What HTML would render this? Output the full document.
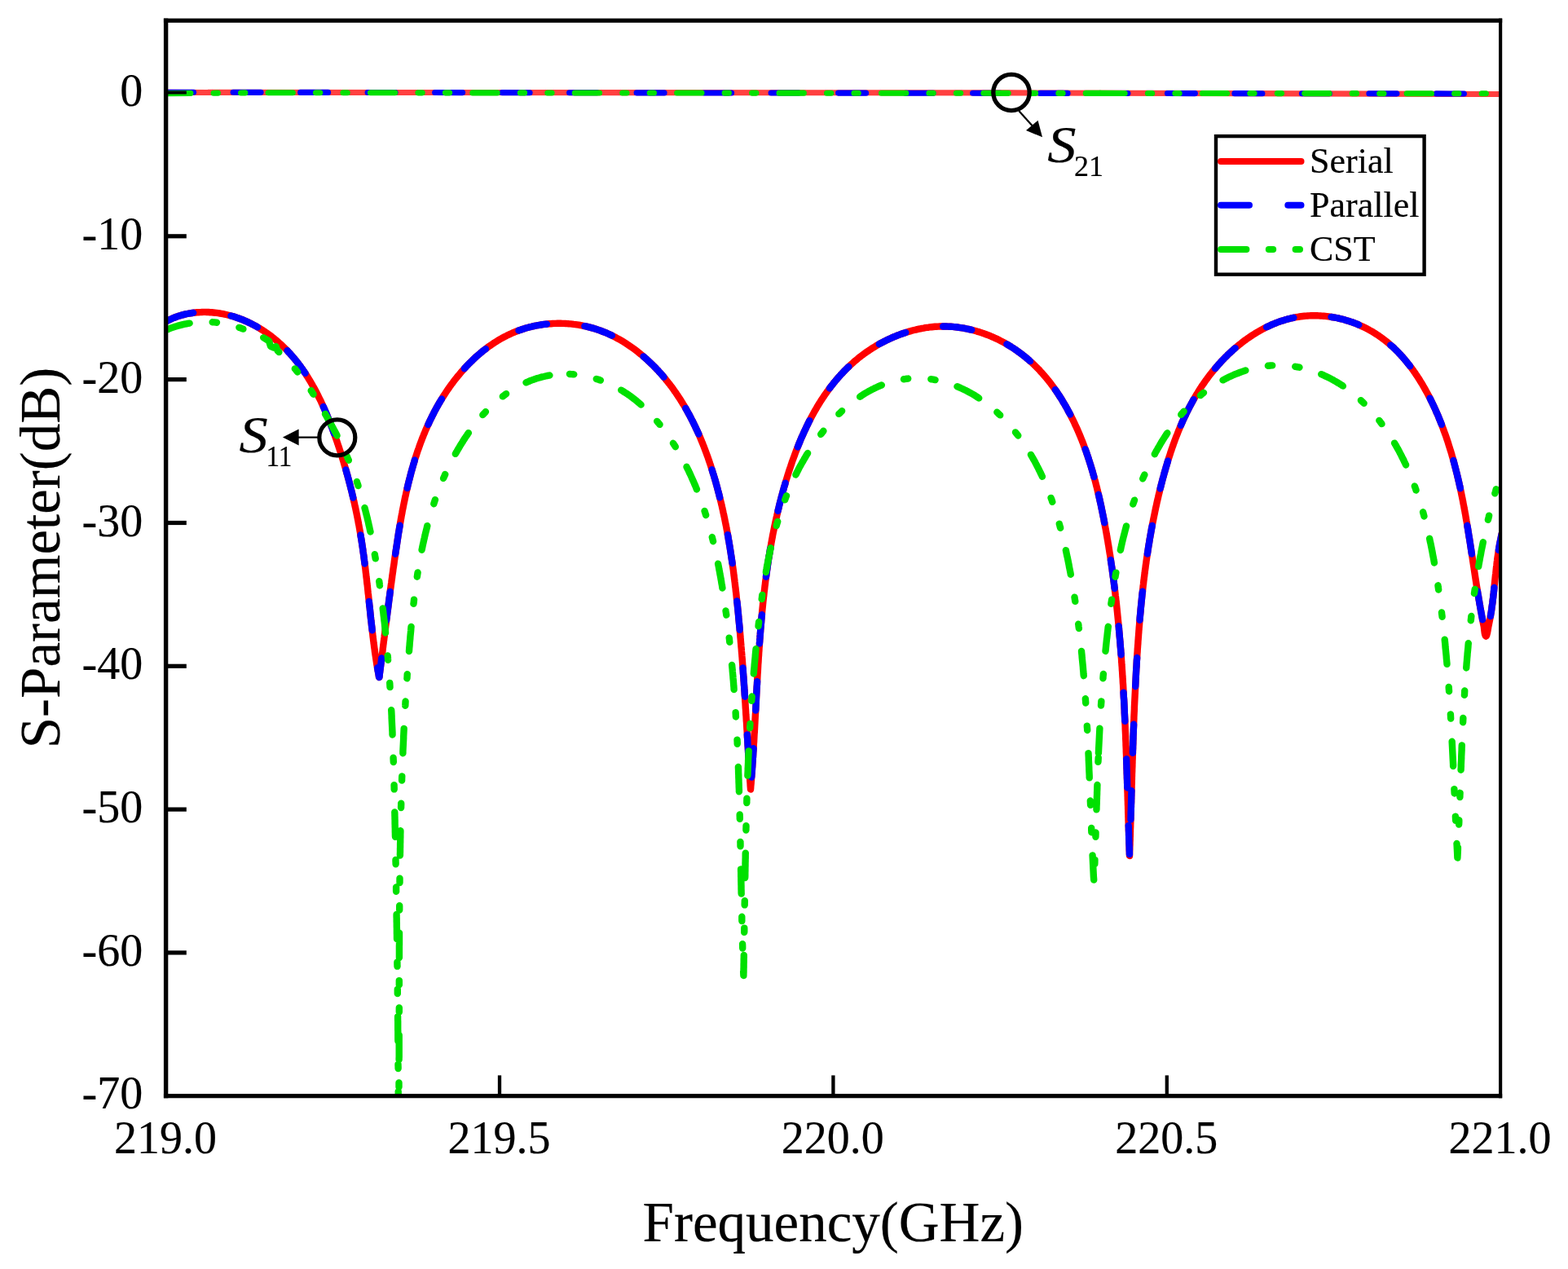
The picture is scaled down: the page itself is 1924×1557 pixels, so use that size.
<!DOCTYPE html>
<html lang="en">
<head>
<meta charset="utf-8">
<title>S-Parameter vs Frequency</title>
<style>
html,body{margin:0;padding:0;background:#fff;}
body{width:1924px;height:1557px;overflow:hidden;}
svg{display:block;}
text{font-family:'Liberation Serif', 'Times New Roman', Times, serif;fill:#000;stroke:#000;stroke-width:0.2px;stroke-linejoin:round;}
.tick{font-size:56px;}
.title{font-size:69px;}
.leg{font-size:44px;}
.ann{font-size:64px;font-style:italic;}
.sub{font-size:36px;}
.curve{fill:none;stroke-width:8.4;stroke-linecap:round;stroke-linejoin:round;}
.s21{fill:none;stroke-width:7.1;stroke-linecap:round;stroke-linejoin:round;}
.r{stroke:#ff0000;} .r2{stroke:#ff4040;}
.b{stroke:#0000ff;stroke-dasharray:34 48.5;}
.curve.b{stroke-dasharray:35.5 46.7;}
.g{stroke:#00e000;stroke-dasharray:30.3 28.17 5.3 28.17 5.3 28.17;}
</style>
</head>
<body>
<svg width="1924" height="1557" viewBox="0 0 1924 1557">
<rect x="0" y="0" width="1924" height="1557" fill="#fff"/>
<defs><clipPath id="plot"><rect x="203.6" y="25.3" width="1635.4" height="1318.2"/></clipPath></defs>

<g clip-path="url(#plot)">
<path class="s21 r2" d="M203.6,113.4 L1241,113.9 L1841.2,115.5"/>
<path class="s21 b" d="M203.6,113.20 L1349.9,114.46"/>
<path class="s21 b" d="M1349.9,114.46 L1841.2,115.00"/>
<path class="s21 g" d="M203.6,114.60 L330,113.7 L1349.9,114.41"/>
<path class="s21 g" d="M1349.9,114.41 L1841.2,114.80"/>
<path class="curve r" d="M203.6,394.6 L205.4,393.6 L207.2,392.7 L209.0,391.8 L210.8,391.0 L212.7,390.2 L214.5,389.5 L216.4,388.8 L218.3,388.1 L220.2,387.5 L222.1,386.9 L224.1,386.4 L226.0,385.9 L227.9,385.4 L229.9,385.0 L231.9,384.6 L233.8,384.3 L235.8,384.0 L237.8,383.7 L239.8,383.5 L241.8,383.3 L243.8,383.2 L245.8,383.1 L247.8,383.0 L249.8,382.9 L251.8,382.9 L253.8,383.0 L255.8,383.0 L257.8,383.2 L259.8,383.3 L261.8,383.5 L263.8,383.7 L265.7,383.9 L267.7,384.2 L269.7,384.5 L271.7,384.8 L273.6,385.2 L275.6,385.6 L277.5,386.0 L279.5,386.5 L281.4,387.0 L283.3,387.5 L285.3,388.0 L287.2,388.6 L289.1,389.2 L291.0,389.9 L292.8,390.5 L294.7,391.2 L296.6,391.9 L298.4,392.7 L300.2,393.5 L302.1,394.2 L303.9,395.1 L305.7,395.9 L307.5,396.8 L309.3,397.7 L311.0,398.6 L312.8,399.6 L314.6,400.5 L316.3,401.5 L318.0,402.5 L319.7,403.6 L321.4,404.6 L323.1,405.7 L324.8,406.8 L326.4,408.0 L328.1,409.1 L329.7,410.3 L331.3,411.4 L332.9,412.6 L334.5,413.9 L336.0,415.1 L337.6,416.4 L339.1,417.6 L340.6,418.9 L342.1,420.3 L343.6,421.6 L345.1,422.9 L346.5,424.3 L348.0,425.7 L349.4,427.1 L350.8,428.5 L352.2,429.9 L353.5,431.3 L354.9,432.8 L356.2,434.2 L357.5,435.7 L358.8,437.2 L360.1,438.7 L361.4,440.2 L362.6,441.8 L363.9,443.3 L365.1,444.9 L366.3,446.4 L367.5,448.0 L368.7,449.6 L369.8,451.2 L371.0,452.8 L372.1,454.5 L373.2,456.1 L374.4,457.7 L375.4,459.4 L376.5,461.1 L377.6,462.8 L378.6,464.4 L379.7,466.2 L380.7,467.9 L381.7,469.6 L382.7,471.3 L383.7,473.1 L384.7,474.8 L385.7,476.6 L386.6,478.3 L387.6,480.1 L388.5,481.9 L389.4,483.7 L390.3,485.5 L391.2,487.3 L392.1,489.1 L393.0,490.9 L393.9,492.7 L394.7,494.6 L395.6,496.4 L396.4,498.2 L397.3,500.1 L398.1,501.9 L398.9,503.8 L399.7,505.7 L400.5,507.5 L401.3,509.4 L402.0,511.3 L402.8,513.2 L403.6,515.1 L404.3,516.9 L405.1,518.8 L405.8,520.7 L406.5,522.6 L407.3,524.5 L408.0,526.4 L408.7,528.4 L409.4,530.3 L410.1,532.2 L410.8,534.1 L411.4,536.0 L412.1,537.9 L412.8,539.9 L413.5,541.8 L414.1,543.7 L414.8,545.6 L415.4,547.6 L416.1,549.5 L416.7,551.4 L417.3,553.3 L417.9,555.3 L418.6,557.2 L419.2,559.1 L419.8,561.1 L420.4,563.0 L421.0,564.9 L421.6,566.9 L422.1,568.8 L422.7,570.7 L423.3,572.7 L423.9,574.6 L424.4,576.6 L425.0,578.5 L425.5,580.5 L426.1,582.4 L426.6,584.3 L427.1,586.3 L427.7,588.2 L428.2,590.2 L428.7,592.1 L429.2,594.1 L429.7,596.0 L430.2,598.0 L430.7,599.9 L431.2,601.9 L431.7,603.8 L432.1,605.8 L432.6,607.8 L433.1,609.7 L433.5,611.7 L434.0,613.6 L434.4,615.6 L434.9,617.5 L435.3,619.5 L435.7,621.5 L436.2,623.4 L436.6,625.4 L437.0,627.3 L437.4,629.3 L437.8,631.3 L438.2,633.2 L438.6,635.2 L439.0,637.2 L439.4,639.1 L439.7,641.1 L440.1,643.1 L440.5,645.0 L440.8,647.0 L441.2,648.9 L441.5,650.9 L441.9,652.9 L442.2,654.8 L442.5,656.8 L442.8,658.8 L443.2,660.8 L443.5,662.7 L443.8,664.7 L444.1,666.7 L444.4,668.6 L444.7,670.6 L445.0,672.6 L445.3,674.5 L445.5,676.5 L445.8,678.5 L446.1,680.4 L446.4,682.4 L446.6,684.4 L446.9,686.4 L447.1,688.3 L447.4,690.3 L447.6,692.3 L447.9,694.2 L448.1,696.2 L448.4,698.2 L448.6,700.2 L448.8,702.1 L449.1,704.1 L449.3,706.1 L449.5,708.1 L449.8,710.0 L450.0,712.0 L450.2,714.0 L450.4,716.0 L450.7,717.9 L450.9,719.9 L451.1,721.9 L451.3,723.9 L451.5,725.9 L451.7,727.8 L452.0,729.8 L452.2,731.8 L452.4,733.8 L452.6,735.7 L452.8,737.7 L453.0,739.7 L453.2,741.7 L453.4,743.7 L453.7,745.6 L453.9,747.6 L454.1,749.6 L454.3,751.6 L454.5,753.6 L454.7,755.5 L454.9,757.5 L455.1,759.5 L455.4,761.5 L455.6,763.5 L455.8,765.4 L456.0,767.4 L456.3,769.4 L456.5,771.4 L456.7,773.4 L456.9,775.4 L457.2,777.3 L457.4,779.3 L457.6,781.3 L457.9,783.3 L458.1,785.3 L458.4,787.3 L458.6,789.3 L458.9,791.2 L459.1,793.2 L459.4,795.2 L459.7,797.2 L459.9,799.2 L460.2,801.2 L460.5,803.2 L460.8,805.1 L461.1,807.1 L461.4,809.1 L461.7,811.1 L462.0,813.1 L462.3,815.1 L462.7,817.1 L463.0,819.1 L463.4,821.1 L463.7,823.0 L464.1,825.0 L464.5,827.0 L464.7,828.5 L464.9,829.6 L465.0,830.4 L465.2,830.8 L465.3,831.0 L465.4,830.8 L465.5,830.4 L465.6,829.6 L465.7,828.5 L465.8,827.0 L466.1,825.0 L466.3,823.1 L466.6,821.1 L466.8,819.1 L467.1,817.1 L467.3,815.1 L467.6,813.1 L467.8,811.2 L468.1,809.2 L468.3,807.2 L468.6,805.2 L468.9,803.2 L469.1,801.3 L469.4,799.3 L469.6,797.3 L469.8,795.3 L470.1,793.4 L470.3,791.4 L470.6,789.4 L470.8,787.4 L471.1,785.5 L471.3,783.5 L471.6,781.5 L471.8,779.5 L472.1,777.6 L472.3,775.6 L472.6,773.6 L472.8,771.7 L473.1,769.7 L473.3,767.7 L473.6,765.8 L473.8,763.8 L474.1,761.8 L474.3,759.8 L474.6,757.9 L474.8,755.9 L475.1,753.9 L475.3,752.0 L475.6,750.0 L475.9,748.0 L476.1,746.1 L476.4,744.1 L476.6,742.1 L476.9,740.2 L477.1,738.2 L477.4,736.2 L477.6,734.2 L477.9,732.3 L478.2,730.3 L478.4,728.3 L478.7,726.4 L478.9,724.4 L479.2,722.4 L479.5,720.4 L479.7,718.5 L480.0,716.5 L480.3,714.5 L480.5,712.6 L480.8,710.6 L481.1,708.6 L481.3,706.6 L481.6,704.7 L481.9,702.7 L482.2,700.7 L482.4,698.7 L482.7,696.7 L483.0,694.8 L483.3,692.8 L483.6,690.8 L483.8,688.8 L484.1,686.8 L484.4,684.9 L484.7,682.9 L485.0,680.9 L485.3,678.9 L485.6,676.9 L485.9,674.9 L486.2,672.9 L486.5,671.0 L486.8,669.0 L487.1,667.0 L487.4,665.0 L487.7,663.0 L488.0,661.0 L488.3,659.0 L488.6,657.0 L488.9,655.0 L489.2,653.1 L489.6,651.1 L489.9,649.1 L490.2,647.1 L490.6,645.1 L490.9,643.1 L491.2,641.1 L491.6,639.1 L491.9,637.1 L492.3,635.2 L492.6,633.2 L493.0,631.2 L493.4,629.2 L493.7,627.2 L494.1,625.2 L494.5,623.3 L494.9,621.3 L495.3,619.3 L495.7,617.3 L496.1,615.4 L496.5,613.4 L496.9,611.4 L497.3,609.4 L497.8,607.5 L498.2,605.5 L498.6,603.5 L499.1,601.6 L499.5,599.6 L500.0,597.7 L500.4,595.7 L500.9,593.8 L501.4,591.8 L501.9,589.8 L502.4,587.9 L502.9,586.0 L503.4,584.0 L503.9,582.1 L504.4,580.1 L504.9,578.2 L505.5,576.3 L506.0,574.3 L506.6,572.4 L507.1,570.5 L507.7,568.6 L508.3,566.7 L508.8,564.7 L509.4,562.8 L510.0,560.9 L510.7,559.0 L511.3,557.1 L511.9,555.2 L512.5,553.3 L513.2,551.5 L513.9,549.6 L514.5,547.7 L515.2,545.8 L515.9,543.9 L516.6,542.1 L517.3,540.2 L518.0,538.3 L518.7,536.5 L519.5,534.6 L520.2,532.8 L521.0,531.0 L521.7,529.1 L522.5,527.3 L523.3,525.5 L524.1,523.6 L524.9,521.8 L525.8,520.0 L526.6,518.2 L527.5,516.4 L528.3,514.6 L529.2,512.8 L530.1,511.0 L531.0,509.2 L531.9,507.5 L532.8,505.7 L533.7,503.9 L534.7,502.2 L535.6,500.4 L536.6,498.7 L537.6,496.9 L538.6,495.2 L539.6,493.5 L540.6,491.7 L541.7,490.0 L542.7,488.3 L543.8,486.6 L544.9,484.9 L546.0,483.2 L547.1,481.5 L548.2,479.8 L549.3,478.2 L550.5,476.5 L551.6,474.9 L552.8,473.2 L554.0,471.6 L555.2,470.0 L556.4,468.3 L557.6,466.7 L558.9,465.1 L560.1,463.6 L561.4,462.0 L562.7,460.4 L564.0,458.9 L565.3,457.3 L566.6,455.8 L567.9,454.3 L569.3,452.8 L570.6,451.3 L572.0,449.8 L573.4,448.4 L574.8,446.9 L576.2,445.5 L577.6,444.1 L579.1,442.7 L580.5,441.3 L582.0,439.9 L583.4,438.5 L584.9,437.2 L586.4,435.9 L587.9,434.6 L589.4,433.3 L591.0,432.0 L592.5,430.7 L594.1,429.5 L595.7,428.3 L597.2,427.1 L598.8,425.9 L600.4,424.7 L602.1,423.6 L603.7,422.5 L605.3,421.4 L607.0,420.3 L608.7,419.2 L610.3,418.2 L612.0,417.2 L613.7,416.2 L615.5,415.2 L617.2,414.2 L618.9,413.3 L620.7,412.4 L622.4,411.5 L624.2,410.7 L626.0,409.8 L627.8,409.0 L629.6,408.2 L631.4,407.5 L633.2,406.7 L635.1,406.0 L636.9,405.3 L638.8,404.7 L640.7,404.0 L642.6,403.4 L644.5,402.8 L646.4,402.3 L648.3,401.8 L650.2,401.2 L652.2,400.8 L654.1,400.3 L656.0,399.9 L658.0,399.5 L660.0,399.1 L661.9,398.8 L663.9,398.5 L665.9,398.2 L667.9,397.9 L669.9,397.7 L671.9,397.5 L673.9,397.3 L675.9,397.2 L677.9,397.0 L679.9,396.9 L681.9,396.9 L683.9,396.8 L686.0,396.8 L688.0,396.8 L690.0,396.9 L692.0,396.9 L694.0,397.0 L696.0,397.1 L698.0,397.3 L700.0,397.4 L702.0,397.6 L704.0,397.9 L706.0,398.1 L708.0,398.4 L710.0,398.7 L712.0,399.0 L713.9,399.4 L715.9,399.8 L717.9,400.2 L719.8,400.6 L721.8,401.1 L723.7,401.6 L725.6,402.1 L727.5,402.6 L729.4,403.2 L731.3,403.8 L733.2,404.4 L735.1,405.1 L737.0,405.8 L738.8,406.5 L740.7,407.2 L742.5,407.9 L744.4,408.7 L746.2,409.5 L748.0,410.3 L749.8,411.2 L751.6,412.0 L753.4,412.9 L755.1,413.8 L756.9,414.8 L758.6,415.7 L760.4,416.7 L762.1,417.7 L763.8,418.7 L765.5,419.7 L767.2,420.8 L768.9,421.9 L770.5,423.0 L772.2,424.1 L773.8,425.2 L775.5,426.4 L777.1,427.5 L778.7,428.7 L780.3,429.9 L781.9,431.1 L783.5,432.4 L785.0,433.6 L786.6,434.9 L788.1,436.2 L789.6,437.5 L791.2,438.8 L792.7,440.1 L794.2,441.5 L795.6,442.8 L797.1,444.2 L798.5,445.6 L800.0,447.0 L801.4,448.4 L802.8,449.8 L804.2,451.2 L805.6,452.7 L807.0,454.1 L808.3,455.6 L809.7,457.1 L811.0,458.6 L812.3,460.1 L813.6,461.6 L814.9,463.1 L816.2,464.6 L817.4,466.2 L818.7,467.7 L819.9,469.3 L821.2,470.9 L822.4,472.4 L823.6,474.0 L824.8,475.6 L825.9,477.2 L827.1,478.9 L828.2,480.5 L829.4,482.1 L830.5,483.8 L831.6,485.4 L832.7,487.1 L833.8,488.7 L834.9,490.4 L835.9,492.1 L837.0,493.8 L838.0,495.5 L839.1,497.2 L840.1,498.9 L841.1,500.6 L842.1,502.4 L843.1,504.1 L844.0,505.9 L845.0,507.6 L846.0,509.4 L846.9,511.1 L847.8,512.9 L848.7,514.7 L849.7,516.5 L850.6,518.3 L851.4,520.1 L852.3,521.9 L853.2,523.7 L854.0,525.5 L854.9,527.3 L855.7,529.1 L856.6,531.0 L857.4,532.8 L858.2,534.7 L859.0,536.5 L859.8,538.4 L860.5,540.2 L861.3,542.1 L862.1,544.0 L862.8,545.8 L863.6,547.7 L864.3,549.6 L865.0,551.5 L865.7,553.4 L866.4,555.2 L867.1,557.1 L867.8,559.0 L868.5,560.9 L869.2,562.9 L869.8,564.8 L870.5,566.7 L871.1,568.6 L871.8,570.5 L872.4,572.4 L873.0,574.4 L873.6,576.3 L874.2,578.2 L874.8,580.2 L875.4,582.1 L876.0,584.0 L876.6,586.0 L877.2,587.9 L877.7,589.8 L878.3,591.8 L878.8,593.7 L879.4,595.7 L879.9,597.6 L880.4,599.6 L880.9,601.5 L881.4,603.5 L882.0,605.4 L882.5,607.4 L882.9,609.3 L883.4,611.3 L883.9,613.2 L884.4,615.2 L884.9,617.2 L885.3,619.1 L885.8,621.1 L886.2,623.0 L886.7,625.0 L887.1,626.9 L887.5,628.9 L888.0,630.9 L888.4,632.8 L888.8,634.8 L889.2,636.7 L889.6,638.7 L890.0,640.7 L890.4,642.6 L890.8,644.6 L891.2,646.5 L891.5,648.5 L891.9,650.5 L892.3,652.4 L892.6,654.4 L893.0,656.4 L893.4,658.3 L893.7,660.3 L894.0,662.3 L894.4,664.2 L894.7,666.2 L895.0,668.2 L895.4,670.1 L895.7,672.1 L896.0,674.1 L896.3,676.0 L896.6,678.0 L896.9,680.0 L897.2,681.9 L897.5,683.9 L897.8,685.9 L898.1,687.9 L898.4,689.8 L898.7,691.8 L898.9,693.8 L899.2,695.7 L899.5,697.7 L899.8,699.7 L900.0,701.7 L900.3,703.6 L900.5,705.6 L900.8,707.6 L901.0,709.6 L901.3,711.5 L901.5,713.5 L901.8,715.5 L902.0,717.5 L902.2,719.5 L902.5,721.4 L902.7,723.4 L902.9,725.4 L903.2,727.4 L903.4,729.3 L903.6,731.3 L903.8,733.3 L904.0,735.3 L904.2,737.3 L904.4,739.2 L904.7,741.2 L904.9,743.2 L905.1,745.2 L905.3,747.2 L905.5,749.2 L905.7,751.1 L905.9,753.1 L906.1,755.1 L906.2,757.1 L906.4,759.1 L906.6,761.1 L906.8,763.0 L907.0,765.0 L907.2,767.0 L907.4,769.0 L907.6,771.0 L907.7,773.0 L907.9,775.0 L908.1,776.9 L908.3,778.9 L908.4,780.9 L908.6,782.9 L908.8,784.9 L908.9,786.9 L909.1,788.9 L909.3,790.9 L909.4,792.8 L909.6,794.8 L909.8,796.8 L909.9,798.8 L910.1,800.8 L910.3,802.8 L910.4,804.8 L910.6,806.8 L910.7,808.8 L910.9,810.7 L911.0,812.7 L911.2,814.7 L911.3,816.7 L911.5,818.7 L911.6,820.7 L911.8,822.7 L911.9,824.7 L912.0,826.7 L912.2,828.7 L912.3,830.7 L912.5,832.7 L912.6,834.7 L912.8,836.6 L912.9,838.6 L913.0,840.6 L913.2,842.6 L913.3,844.6 L913.4,846.6 L913.6,848.6 L913.7,850.6 L913.8,852.6 L914.0,854.6 L914.1,856.6 L914.2,858.6 L914.3,860.6 L914.5,862.6 L914.6,864.6 L914.7,866.6 L914.8,868.6 L915.0,870.6 L915.1,872.6 L915.2,874.6 L915.3,876.5 L915.5,878.5 L915.6,880.5 L915.7,882.5 L915.8,884.5 L916.0,886.5 L916.1,888.5 L916.2,890.5 L916.3,892.5 L916.4,894.5 L916.6,896.5 L916.7,898.5 L916.8,900.5 L916.9,902.5 L917.0,904.5 L917.2,906.5 L917.3,908.5 L917.4,910.5 L917.5,912.5 L917.6,914.5 L917.8,916.5 L917.9,918.5 L918.0,920.5 L918.1,922.5 L918.2,924.5 L918.4,926.5 L918.5,928.5 L918.6,930.5 L918.7,932.5 L918.8,934.5 L919.0,936.5 L919.1,938.5 L919.2,940.5 L919.3,942.5 L919.5,944.5 L919.6,946.5 L919.7,948.5 L919.8,950.5 L920.0,952.5 L920.1,954.5 L920.2,956.5 L920.3,958.5 L920.5,960.5 L920.6,962.5 L920.7,964.5 L920.9,966.5 L921.0,968.5 L921.2,966.5 L921.3,964.5 L921.5,962.5 L921.7,960.5 L921.8,958.5 L922.0,956.5 L922.1,954.5 L922.3,952.5 L922.4,950.5 L922.6,948.5 L922.7,946.5 L922.9,944.5 L923.0,942.5 L923.2,940.5 L923.3,938.5 L923.4,936.5 L923.6,934.5 L923.7,932.5 L923.8,930.5 L924.0,928.5 L924.1,926.5 L924.2,924.5 L924.3,922.5 L924.5,920.5 L924.6,918.5 L924.7,916.5 L924.8,914.4 L924.9,912.4 L925.1,910.4 L925.2,908.4 L925.3,906.4 L925.4,904.4 L925.5,902.4 L925.6,900.4 L925.8,898.4 L925.9,896.4 L926.0,894.5 L926.1,892.5 L926.2,890.5 L926.3,888.5 L926.4,886.5 L926.5,884.5 L926.6,882.5 L926.7,880.5 L926.8,878.5 L926.9,876.5 L927.1,874.5 L927.2,872.5 L927.3,870.5 L927.4,868.5 L927.5,866.5 L927.6,864.5 L927.7,862.5 L927.8,860.5 L927.9,858.5 L928.0,856.5 L928.1,854.5 L928.2,852.5 L928.3,850.5 L928.4,848.5 L928.5,846.5 L928.6,844.5 L928.7,842.5 L928.9,840.5 L929.0,838.5 L929.1,836.5 L929.2,834.6 L929.3,832.6 L929.4,830.6 L929.5,828.6 L929.6,826.6 L929.8,824.6 L929.9,822.6 L930.0,820.6 L930.1,818.6 L930.2,816.6 L930.3,814.6 L930.5,812.6 L930.6,810.7 L930.7,808.7 L930.8,806.7 L931.0,804.7 L931.1,802.7 L931.2,800.7 L931.4,798.7 L931.5,796.7 L931.6,794.7 L931.8,792.8 L931.9,790.8 L932.0,788.8 L932.2,786.8 L932.3,784.8 L932.5,782.8 L932.6,780.8 L932.8,778.8 L932.9,776.9 L933.1,774.9 L933.2,772.9 L933.4,770.9 L933.6,768.9 L933.7,766.9 L933.9,765.0 L934.1,763.0 L934.2,761.0 L934.4,759.0 L934.6,757.0 L934.8,755.0 L935.0,753.1 L935.1,751.1 L935.3,749.1 L935.5,747.1 L935.7,745.1 L935.9,743.2 L936.1,741.2 L936.3,739.2 L936.5,737.2 L936.7,735.2 L936.9,733.3 L937.2,731.3 L937.4,729.3 L937.6,727.3 L937.8,725.4 L938.1,723.4 L938.3,721.4 L938.5,719.4 L938.8,717.4 L939.0,715.5 L939.2,713.5 L939.5,711.5 L939.8,709.6 L940.0,707.6 L940.3,705.6 L940.5,703.6 L940.8,701.7 L941.1,699.7 L941.4,697.7 L941.6,695.8 L941.9,693.8 L942.2,691.8 L942.5,689.8 L942.8,687.9 L943.1,685.9 L943.4,683.9 L943.7,682.0 L944.1,680.0 L944.4,678.0 L944.7,676.1 L945.0,674.1 L945.4,672.1 L945.7,670.2 L946.1,668.2 L946.4,666.3 L946.8,664.3 L947.1,662.3 L947.5,660.4 L947.9,658.4 L948.2,656.4 L948.6,654.5 L949.0,652.5 L949.4,650.6 L949.8,648.6 L950.2,646.6 L950.6,644.7 L951.0,642.7 L951.4,640.8 L951.9,638.8 L952.3,636.9 L952.7,634.9 L953.2,632.9 L953.6,631.0 L954.1,629.0 L954.5,627.1 L955.0,625.1 L955.5,623.2 L955.9,621.2 L956.4,619.3 L956.9,617.3 L957.4,615.4 L957.9,613.4 L958.4,611.5 L958.9,609.5 L959.5,607.6 L960.0,605.6 L960.5,603.7 L961.0,601.7 L961.6,599.8 L962.1,597.8 L962.7,595.9 L963.3,594.0 L963.8,592.0 L964.4,590.1 L965.0,588.1 L965.6,586.2 L966.2,584.2 L966.8,582.3 L967.4,580.4 L968.0,578.4 L968.7,576.5 L969.3,574.6 L970.0,572.6 L970.6,570.7 L971.3,568.8 L971.9,566.8 L972.6,564.9 L973.3,563.0 L974.0,561.1 L974.7,559.2 L975.4,557.3 L976.1,555.4 L976.8,553.5 L977.6,551.6 L978.3,549.7 L979.1,547.8 L979.8,545.9 L980.6,544.0 L981.4,542.1 L982.1,540.2 L982.9,538.4 L983.7,536.5 L984.6,534.7 L985.4,532.8 L986.2,531.0 L987.1,529.1 L987.9,527.3 L988.8,525.5 L989.6,523.6 L990.5,521.8 L991.4,520.0 L992.3,518.2 L993.2,516.4 L994.2,514.6 L995.1,512.8 L996.0,511.1 L997.0,509.3 L998.0,507.5 L998.9,505.8 L999.9,504.0 L1000.9,502.3 L1001.9,500.6 L1002.9,498.8 L1004.0,497.1 L1005.0,495.4 L1006.1,493.7 L1007.1,492.1 L1008.2,490.4 L1009.3,488.7 L1010.4,487.1 L1011.5,485.4 L1012.6,483.8 L1013.8,482.2 L1014.9,480.5 L1016.1,478.9 L1017.3,477.3 L1018.4,475.8 L1019.6,474.2 L1020.9,472.6 L1022.1,471.1 L1023.3,469.5 L1024.6,468.0 L1025.8,466.5 L1027.1,465.0 L1028.4,463.5 L1029.7,462.0 L1031.0,460.6 L1032.3,459.1 L1033.7,457.7 L1035.0,456.2 L1036.4,454.8 L1037.8,453.4 L1039.2,452.0 L1040.6,450.7 L1042.0,449.3 L1043.4,448.0 L1044.9,446.6 L1046.4,445.3 L1047.8,444.0 L1049.3,442.7 L1050.9,441.4 L1052.4,440.2 L1053.9,438.9 L1055.5,437.7 L1057.0,436.5 L1058.6,435.3 L1060.2,434.1 L1061.8,433.0 L1063.5,431.8 L1065.1,430.7 L1066.8,429.6 L1068.4,428.5 L1070.1,427.4 L1071.8,426.3 L1073.5,425.3 L1075.3,424.2 L1077.0,423.2 L1078.8,422.2 L1080.5,421.2 L1082.3,420.3 L1084.1,419.3 L1085.9,418.4 L1087.7,417.5 L1089.5,416.7 L1091.3,415.8 L1093.1,415.0 L1095.0,414.1 L1096.8,413.3 L1098.7,412.6 L1100.6,411.8 L1102.5,411.1 L1104.3,410.4 L1106.2,409.7 L1108.1,409.0 L1110.0,408.4 L1112.0,407.8 L1113.9,407.2 L1115.8,406.6 L1117.7,406.1 L1119.7,405.5 L1121.6,405.0 L1123.6,404.6 L1125.5,404.1 L1127.5,403.7 L1129.4,403.3 L1131.4,402.9 L1133.3,402.6 L1135.3,402.2 L1137.3,401.9 L1139.3,401.7 L1141.2,401.4 L1143.2,401.2 L1145.2,401.0 L1147.2,400.8 L1149.1,400.7 L1151.1,400.6 L1153.1,400.5 L1155.1,400.5 L1157.1,400.5 L1159.0,400.5 L1161.0,400.5 L1163.0,400.6 L1165.0,400.7 L1166.9,400.8 L1168.9,400.9 L1170.9,401.1 L1172.8,401.3 L1174.8,401.5 L1176.8,401.8 L1178.7,402.1 L1180.7,402.4 L1182.6,402.7 L1184.6,403.1 L1186.5,403.5 L1188.4,403.9 L1190.4,404.3 L1192.3,404.8 L1194.2,405.3 L1196.1,405.8 L1198.0,406.3 L1199.9,406.9 L1201.8,407.4 L1203.7,408.1 L1205.6,408.7 L1207.5,409.3 L1209.3,410.0 L1211.2,410.7 L1213.1,411.4 L1214.9,412.2 L1216.7,413.0 L1218.6,413.7 L1220.4,414.6 L1222.2,415.4 L1224.0,416.2 L1225.8,417.1 L1227.5,418.0 L1229.3,418.9 L1231.1,419.9 L1232.8,420.8 L1234.6,421.8 L1236.3,422.8 L1238.0,423.9 L1239.7,424.9 L1241.4,426.0 L1243.1,427.0 L1244.7,428.1 L1246.4,429.3 L1248.0,430.4 L1249.6,431.6 L1251.3,432.7 L1252.8,433.9 L1254.4,435.1 L1256.0,436.4 L1257.6,437.6 L1259.1,438.9 L1260.6,440.1 L1262.1,441.4 L1263.6,442.8 L1265.1,444.1 L1266.6,445.4 L1268.0,446.8 L1269.5,448.2 L1270.9,449.6 L1272.3,451.0 L1273.7,452.4 L1275.1,453.8 L1276.4,455.3 L1277.8,456.8 L1279.1,458.3 L1280.4,459.8 L1281.7,461.3 L1283.0,462.8 L1284.3,464.3 L1285.6,465.9 L1286.8,467.4 L1288.1,469.0 L1289.3,470.6 L1290.5,472.2 L1291.7,473.8 L1292.9,475.4 L1294.1,477.1 L1295.2,478.7 L1296.4,480.4 L1297.5,482.0 L1298.6,483.7 L1299.7,485.4 L1300.8,487.1 L1301.9,488.8 L1303.0,490.5 L1304.0,492.3 L1305.0,494.0 L1306.1,495.7 L1307.1,497.5 L1308.1,499.2 L1309.1,501.0 L1310.1,502.8 L1311.0,504.6 L1312.0,506.4 L1313.0,508.2 L1313.9,510.0 L1314.8,511.8 L1315.7,513.6 L1316.6,515.4 L1317.5,517.3 L1318.4,519.1 L1319.2,521.0 L1320.1,522.8 L1320.9,524.7 L1321.8,526.5 L1322.6,528.4 L1323.4,530.2 L1324.2,532.1 L1325.0,534.0 L1325.8,535.9 L1326.5,537.8 L1327.3,539.6 L1328.0,541.5 L1328.8,543.4 L1329.5,545.3 L1330.2,547.2 L1330.9,549.1 L1331.6,551.0 L1332.3,552.9 L1333.0,554.8 L1333.6,556.7 L1334.3,558.6 L1334.9,560.5 L1335.6,562.5 L1336.2,564.4 L1336.8,566.3 L1337.4,568.2 L1338.0,570.1 L1338.6,572.0 L1339.2,574.0 L1339.8,575.9 L1340.3,577.8 L1340.9,579.7 L1341.4,581.7 L1342.0,583.6 L1342.5,585.5 L1343.0,587.4 L1343.6,589.4 L1344.1,591.3 L1344.6,593.2 L1345.1,595.2 L1345.6,597.1 L1346.1,599.0 L1346.5,601.0 L1347.0,602.9 L1347.5,604.9 L1347.9,606.8 L1348.4,608.7 L1348.8,610.7 L1349.3,612.6 L1349.7,614.6 L1350.1,616.5 L1350.6,618.5 L1351.0,620.4 L1351.4,622.4 L1351.8,624.3 L1352.2,626.3 L1352.6,628.2 L1353.0,630.2 L1353.4,632.1 L1353.8,634.1 L1354.2,636.0 L1354.6,638.0 L1354.9,639.9 L1355.3,641.9 L1355.7,643.8 L1356.0,645.8 L1356.4,647.8 L1356.8,649.7 L1357.1,651.7 L1357.5,653.6 L1357.8,655.6 L1358.2,657.6 L1358.5,659.5 L1358.8,661.5 L1359.2,663.4 L1359.5,665.4 L1359.8,667.4 L1360.2,669.3 L1360.5,671.3 L1360.8,673.3 L1361.1,675.2 L1361.4,677.2 L1361.7,679.2 L1362.1,681.1 L1362.4,683.1 L1362.7,685.1 L1362.9,687.0 L1363.2,689.0 L1363.5,691.0 L1363.8,693.0 L1364.1,694.9 L1364.4,696.9 L1364.7,698.9 L1364.9,700.9 L1365.2,702.8 L1365.5,704.8 L1365.7,706.8 L1366.0,708.8 L1366.3,710.7 L1366.5,712.7 L1366.8,714.7 L1367.0,716.7 L1367.3,718.6 L1367.5,720.6 L1367.8,722.6 L1368.0,724.6 L1368.3,726.6 L1368.5,728.5 L1368.7,730.5 L1369.0,732.5 L1369.2,734.5 L1369.4,736.5 L1369.6,738.5 L1369.9,740.4 L1370.1,742.4 L1370.3,744.4 L1370.5,746.4 L1370.7,748.4 L1370.9,750.4 L1371.1,752.3 L1371.3,754.3 L1371.5,756.3 L1371.7,758.3 L1371.9,760.3 L1372.1,762.3 L1372.3,764.3 L1372.5,766.3 L1372.7,768.2 L1372.9,770.2 L1373.0,772.2 L1373.2,774.2 L1373.4,776.2 L1373.6,778.2 L1373.7,780.2 L1373.9,782.2 L1374.1,784.2 L1374.3,786.2 L1374.4,788.1 L1374.6,790.1 L1374.7,792.1 L1374.9,794.1 L1375.1,796.1 L1375.2,798.1 L1375.4,800.1 L1375.5,802.1 L1375.7,804.1 L1375.8,806.1 L1376.0,808.1 L1376.1,810.1 L1376.2,812.1 L1376.4,814.1 L1376.5,816.1 L1376.7,818.1 L1376.8,820.1 L1376.9,822.1 L1377.1,824.1 L1377.2,826.1 L1377.3,828.0 L1377.4,830.0 L1377.6,832.0 L1377.7,834.0 L1377.8,836.0 L1377.9,838.0 L1378.1,840.0 L1378.2,842.0 L1378.3,844.0 L1378.4,846.0 L1378.5,848.0 L1378.6,850.0 L1378.7,852.0 L1378.8,854.0 L1378.9,856.0 L1379.1,858.0 L1379.2,860.0 L1379.3,862.0 L1379.4,864.0 L1379.5,866.0 L1379.6,868.0 L1379.7,870.0 L1379.8,872.0 L1379.8,874.0 L1379.9,876.0 L1380.0,878.0 L1380.1,880.0 L1380.2,882.0 L1380.3,884.0 L1380.4,886.0 L1380.5,888.0 L1380.6,890.0 L1380.7,892.1 L1380.7,894.1 L1380.8,896.1 L1380.9,898.1 L1381.0,900.1 L1381.1,902.1 L1381.2,904.1 L1381.2,906.1 L1381.3,908.1 L1381.4,910.1 L1381.5,912.1 L1381.5,914.1 L1381.6,916.1 L1381.7,918.1 L1381.8,920.1 L1381.8,922.1 L1381.9,924.1 L1382.0,926.1 L1382.1,928.1 L1382.1,930.1 L1382.2,932.1 L1382.3,934.1 L1382.3,936.1 L1382.4,938.1 L1382.5,940.1 L1382.5,942.1 L1382.6,944.1 L1382.7,946.1 L1382.7,948.1 L1382.8,950.1 L1382.9,952.1 L1382.9,954.1 L1383.0,956.1 L1383.1,958.1 L1383.1,960.1 L1383.2,962.1 L1383.2,964.1 L1383.3,966.1 L1383.4,968.1 L1383.4,970.1 L1383.5,972.1 L1383.6,974.1 L1383.6,976.1 L1383.7,978.1 L1383.7,980.1 L1383.8,982.1 L1383.9,984.1 L1383.9,986.1 L1384.0,988.1 L1384.1,990.1 L1384.1,992.1 L1384.2,994.1 L1384.2,996.1 L1384.3,998.1 L1384.4,1000.1 L1384.4,1002.1 L1384.5,1004.1 L1384.5,1006.1 L1384.6,1008.1 L1384.7,1010.1 L1384.7,1012.1 L1384.8,1014.1 L1384.9,1016.1 L1384.9,1018.1 L1385.0,1020.1 L1385.1,1022.1 L1385.1,1024.1 L1385.2,1026.1 L1385.2,1028.1 L1385.3,1030.1 L1385.4,1032.1 L1385.4,1034.1 L1385.5,1036.0 L1385.6,1038.0 L1385.7,1040.0 L1385.7,1042.0 L1385.8,1044.0 L1385.9,1046.0 L1385.9,1048.0 L1386.0,1050.0 L1386.1,1048.0 L1386.1,1046.0 L1386.2,1044.0 L1386.3,1042.0 L1386.3,1040.0 L1386.4,1038.0 L1386.5,1036.0 L1386.5,1034.0 L1386.6,1032.1 L1386.7,1030.1 L1386.7,1028.1 L1386.8,1026.1 L1386.9,1024.1 L1386.9,1022.1 L1387.0,1020.1 L1387.0,1018.1 L1387.1,1016.1 L1387.2,1014.1 L1387.2,1012.1 L1387.3,1010.1 L1387.3,1008.1 L1387.4,1006.1 L1387.5,1004.1 L1387.5,1002.1 L1387.6,1000.1 L1387.6,998.1 L1387.7,996.1 L1387.8,994.1 L1387.8,992.1 L1387.9,990.1 L1387.9,988.1 L1388.0,986.1 L1388.1,984.1 L1388.1,982.1 L1388.2,980.1 L1388.2,978.1 L1388.3,976.1 L1388.3,974.1 L1388.4,972.1 L1388.5,970.1 L1388.5,968.1 L1388.6,966.1 L1388.6,964.1 L1388.7,962.1 L1388.8,960.1 L1388.8,958.1 L1388.9,956.1 L1388.9,954.1 L1389.0,952.1 L1389.0,950.1 L1389.1,948.1 L1389.2,946.1 L1389.2,944.1 L1389.3,942.1 L1389.4,940.1 L1389.4,938.1 L1389.5,936.1 L1389.5,934.1 L1389.6,932.1 L1389.7,930.1 L1389.7,928.1 L1389.8,926.0 L1389.9,924.0 L1389.9,922.0 L1390.0,920.0 L1390.1,918.0 L1390.1,916.0 L1390.2,914.0 L1390.3,912.0 L1390.3,910.0 L1390.4,908.0 L1390.5,906.0 L1390.5,904.0 L1390.6,902.0 L1390.7,900.0 L1390.8,898.0 L1390.8,896.0 L1390.9,894.0 L1391.0,892.0 L1391.1,890.0 L1391.1,888.0 L1391.2,886.0 L1391.3,884.0 L1391.4,882.0 L1391.4,880.0 L1391.5,878.0 L1391.6,876.0 L1391.7,874.0 L1391.8,872.0 L1391.9,870.0 L1391.9,868.0 L1392.0,866.0 L1392.1,864.0 L1392.2,862.0 L1392.3,860.0 L1392.4,858.0 L1392.5,856.0 L1392.6,854.0 L1392.7,852.0 L1392.8,850.0 L1392.9,848.0 L1393.0,846.0 L1393.1,844.0 L1393.2,842.0 L1393.3,840.0 L1393.4,838.0 L1393.5,836.0 L1393.6,834.0 L1393.7,832.0 L1393.8,830.0 L1393.9,828.0 L1394.0,826.0 L1394.1,824.0 L1394.2,822.0 L1394.3,820.0 L1394.5,818.0 L1394.6,816.0 L1394.7,814.0 L1394.8,812.0 L1394.9,810.0 L1395.1,808.0 L1395.2,806.0 L1395.3,804.0 L1395.4,802.0 L1395.6,800.0 L1395.7,798.0 L1395.8,796.0 L1396.0,794.0 L1396.1,792.0 L1396.3,790.1 L1396.4,788.1 L1396.5,786.1 L1396.7,784.1 L1396.8,782.1 L1397.0,780.1 L1397.1,778.1 L1397.3,776.1 L1397.4,774.1 L1397.6,772.1 L1397.7,770.1 L1397.9,768.1 L1398.1,766.1 L1398.2,764.2 L1398.4,762.2 L1398.6,760.2 L1398.7,758.2 L1398.9,756.2 L1399.1,754.2 L1399.3,752.2 L1399.5,750.2 L1399.6,748.2 L1399.8,746.3 L1400.0,744.3 L1400.2,742.3 L1400.4,740.3 L1400.6,738.3 L1400.8,736.3 L1401.0,734.3 L1401.2,732.4 L1401.4,730.4 L1401.6,728.4 L1401.9,726.4 L1402.1,724.4 L1402.3,722.4 L1402.5,720.5 L1402.7,718.5 L1403.0,716.5 L1403.2,714.5 L1403.4,712.5 L1403.7,710.6 L1403.9,708.6 L1404.2,706.6 L1404.4,704.6 L1404.7,702.6 L1404.9,700.7 L1405.2,698.7 L1405.5,696.7 L1405.7,694.7 L1406.0,692.7 L1406.3,690.8 L1406.5,688.8 L1406.8,686.8 L1407.1,684.8 L1407.4,682.9 L1407.7,680.9 L1408.0,678.9 L1408.3,677.0 L1408.6,675.0 L1408.9,673.0 L1409.2,671.0 L1409.5,669.1 L1409.9,667.1 L1410.2,665.1 L1410.5,663.2 L1410.8,661.2 L1411.2,659.2 L1411.5,657.3 L1411.9,655.3 L1412.2,653.3 L1412.6,651.4 L1412.9,649.4 L1413.3,647.4 L1413.7,645.5 L1414.0,643.5 L1414.4,641.5 L1414.8,639.6 L1415.2,637.6 L1415.6,635.7 L1416.0,633.7 L1416.4,631.7 L1416.8,629.8 L1417.2,627.8 L1417.6,625.9 L1418.0,623.9 L1418.4,622.0 L1418.9,620.0 L1419.3,618.0 L1419.7,616.1 L1420.2,614.1 L1420.6,612.2 L1421.1,610.2 L1421.5,608.3 L1422.0,606.3 L1422.5,604.4 L1422.9,602.4 L1423.4,600.5 L1423.9,598.5 L1424.4,596.6 L1424.9,594.6 L1425.4,592.7 L1425.9,590.7 L1426.4,588.8 L1426.9,586.9 L1427.5,584.9 L1428.0,583.0 L1428.5,581.0 L1429.1,579.1 L1429.6,577.2 L1430.2,575.2 L1430.7,573.3 L1431.3,571.4 L1431.9,569.4 L1432.5,567.5 L1433.0,565.6 L1433.6,563.7 L1434.2,561.7 L1434.9,559.8 L1435.5,557.9 L1436.1,556.0 L1436.7,554.1 L1437.4,552.2 L1438.0,550.3 L1438.7,548.4 L1439.4,546.5 L1440.0,544.6 L1440.7,542.7 L1441.4,540.8 L1442.1,538.9 L1442.8,537.1 L1443.5,535.2 L1444.3,533.3 L1445.0,531.5 L1445.7,529.6 L1446.5,527.7 L1447.3,525.9 L1448.0,524.0 L1448.8,522.2 L1449.6,520.4 L1450.4,518.5 L1451.2,516.7 L1452.0,514.9 L1452.9,513.1 L1453.7,511.3 L1454.6,509.5 L1455.4,507.7 L1456.3,505.9 L1457.2,504.1 L1458.1,502.3 L1459.0,500.5 L1459.9,498.8 L1460.9,497.0 L1461.8,495.3 L1462.8,493.5 L1463.7,491.8 L1464.7,490.0 L1465.7,488.3 L1466.7,486.6 L1467.7,484.9 L1468.7,483.2 L1469.8,481.5 L1470.8,479.8 L1471.9,478.1 L1473.0,476.5 L1474.0,474.8 L1475.1,473.1 L1476.3,471.5 L1477.4,469.9 L1478.5,468.2 L1479.7,466.6 L1480.9,465.0 L1482.0,463.4 L1483.2,461.8 L1484.4,460.2 L1485.7,458.6 L1486.9,457.1 L1488.2,455.5 L1489.4,453.9 L1490.7,452.4 L1492.0,450.9 L1493.3,449.4 L1494.6,447.9 L1496.0,446.4 L1497.3,444.9 L1498.7,443.4 L1500.1,441.9 L1501.5,440.5 L1502.9,439.0 L1504.3,437.6 L1505.8,436.2 L1507.2,434.7 L1508.7,433.3 L1510.2,432.0 L1511.7,430.6 L1513.2,429.2 L1514.7,427.9 L1516.3,426.6 L1517.8,425.2 L1519.4,423.9 L1521.0,422.7 L1522.6,421.4 L1524.2,420.1 L1525.8,418.9 L1527.4,417.7 L1529.1,416.5 L1530.7,415.3 L1532.4,414.2 L1534.1,413.0 L1535.8,411.9 L1537.5,410.8 L1539.2,409.7 L1540.9,408.6 L1542.6,407.6 L1544.4,406.6 L1546.1,405.6 L1547.9,404.6 L1549.7,403.6 L1551.4,402.7 L1553.2,401.8 L1555.0,400.9 L1556.8,400.1 L1558.7,399.2 L1560.5,398.4 L1562.3,397.6 L1564.2,396.9 L1566.0,396.1 L1567.9,395.4 L1569.7,394.7 L1571.6,394.1 L1573.5,393.5 L1575.4,392.9 L1577.3,392.3 L1579.2,391.8 L1581.1,391.2 L1583.0,390.8 L1584.9,390.3 L1586.9,389.9 L1588.8,389.5 L1590.7,389.1 L1592.7,388.8 L1594.6,388.5 L1596.6,388.2 L1598.5,388.0 L1600.5,387.8 L1602.5,387.6 L1604.4,387.5 L1606.4,387.4 L1608.4,387.3 L1610.3,387.3 L1612.3,387.2 L1614.3,387.2 L1616.3,387.3 L1618.2,387.4 L1620.2,387.5 L1622.2,387.6 L1624.2,387.7 L1626.1,387.9 L1628.1,388.1 L1630.1,388.4 L1632.0,388.7 L1634.0,389.0 L1636.0,389.3 L1637.9,389.6 L1639.9,390.0 L1641.8,390.4 L1643.7,390.9 L1645.7,391.3 L1647.6,391.8 L1649.5,392.3 L1651.4,392.9 L1653.3,393.5 L1655.2,394.1 L1657.1,394.7 L1659.0,395.3 L1660.9,396.0 L1662.7,396.7 L1664.6,397.4 L1666.4,398.2 L1668.2,399.0 L1670.0,399.8 L1671.8,400.6 L1673.6,401.4 L1675.4,402.3 L1677.2,403.2 L1678.9,404.1 L1680.6,405.1 L1682.4,406.1 L1684.1,407.0 L1685.7,408.1 L1687.4,409.1 L1689.1,410.2 L1690.7,411.2 L1692.3,412.4 L1693.9,413.5 L1695.5,414.6 L1697.1,415.8 L1698.7,417.0 L1700.2,418.2 L1701.7,419.4 L1703.3,420.7 L1704.8,422.0 L1706.2,423.3 L1707.7,424.6 L1709.2,425.9 L1710.6,427.2 L1712.0,428.6 L1713.4,430.0 L1714.8,431.4 L1716.2,432.8 L1717.6,434.3 L1718.9,435.7 L1720.2,437.2 L1721.6,438.7 L1722.9,440.2 L1724.1,441.7 L1725.4,443.2 L1726.7,444.8 L1727.9,446.3 L1729.2,447.9 L1730.4,449.5 L1731.6,451.1 L1732.8,452.7 L1734.0,454.3 L1735.1,456.0 L1736.3,457.6 L1737.4,459.3 L1738.6,461.0 L1739.7,462.7 L1740.8,464.4 L1741.9,466.1 L1742.9,467.8 L1744.0,469.6 L1745.1,471.3 L1746.1,473.1 L1747.1,474.8 L1748.1,476.6 L1749.1,478.4 L1750.1,480.2 L1751.1,482.0 L1752.1,483.8 L1753.0,485.6 L1754.0,487.4 L1754.9,489.2 L1755.8,491.1 L1756.7,492.9 L1757.6,494.8 L1758.5,496.6 L1759.4,498.5 L1760.2,500.3 L1761.1,502.2 L1761.9,504.1 L1762.7,506.0 L1763.6,507.8 L1764.4,509.7 L1765.2,511.6 L1765.9,513.5 L1766.7,515.4 L1767.5,517.3 L1768.2,519.2 L1769.0,521.1 L1769.7,523.0 L1770.4,524.9 L1771.1,526.8 L1771.8,528.7 L1772.5,530.6 L1773.2,532.5 L1773.9,534.4 L1774.6,536.4 L1775.2,538.3 L1775.9,540.2 L1776.5,542.1 L1777.1,544.0 L1777.7,545.9 L1778.3,547.9 L1778.9,549.8 L1779.5,551.7 L1780.1,553.6 L1780.7,555.5 L1781.3,557.5 L1781.8,559.4 L1782.4,561.3 L1782.9,563.2 L1783.5,565.2 L1784.0,567.1 L1784.5,569.0 L1785.0,571.0 L1785.5,572.9 L1786.0,574.8 L1786.5,576.8 L1787.0,578.7 L1787.5,580.6 L1788.0,582.6 L1788.4,584.5 L1788.9,586.4 L1789.4,588.4 L1789.8,590.3 L1790.3,592.3 L1790.7,594.2 L1791.1,596.1 L1791.6,598.1 L1792.0,600.0 L1792.4,602.0 L1792.8,603.9 L1793.2,605.9 L1793.6,607.8 L1794.0,609.8 L1794.4,611.7 L1794.8,613.7 L1795.2,615.6 L1795.5,617.6 L1795.9,619.5 L1796.3,621.5 L1796.6,623.4 L1797.0,625.4 L1797.4,627.3 L1797.7,629.3 L1798.1,631.2 L1798.4,633.2 L1798.7,635.1 L1799.1,637.1 L1799.4,639.0 L1799.8,641.0 L1800.1,643.0 L1800.4,644.9 L1800.7,646.9 L1801.1,648.8 L1801.4,650.8 L1801.7,652.8 L1802.0,654.7 L1802.3,656.7 L1802.6,658.6 L1803.0,660.6 L1803.3,662.6 L1803.6,664.5 L1803.9,666.5 L1804.2,668.5 L1804.5,670.4 L1804.8,672.4 L1805.1,674.4 L1805.4,676.3 L1805.7,678.3 L1806.0,680.3 L1806.3,682.2 L1806.6,684.2 L1806.9,686.1 L1807.2,688.1 L1807.5,690.1 L1807.8,692.1 L1808.1,694.0 L1808.4,696.0 L1808.7,698.0 L1809.0,699.9 L1809.3,701.9 L1809.6,703.9 L1809.9,705.8 L1810.2,707.8 L1810.5,709.8 L1810.8,711.7 L1811.1,713.7 L1811.4,715.7 L1811.7,717.6 L1812.0,719.6 L1812.4,721.6 L1812.7,723.5 L1813.0,725.5 L1813.3,727.5 L1813.6,729.5 L1814.0,731.4 L1814.3,733.4 L1814.6,735.4 L1815.0,737.3 L1815.3,739.3 L1815.6,741.3 L1816.0,743.2 L1816.3,745.2 L1816.7,747.2 L1817.0,749.1 L1817.4,751.1 L1817.8,753.1 L1818.1,755.0 L1818.5,757.0 L1818.9,759.0 L1819.2,760.9 L1819.6,762.9 L1820.0,764.9 L1820.4,766.8 L1820.8,768.8 L1821.3,773.0 L1821.7,776.3 L1822.2,778.7 L1822.8,780.1 L1823.3,780.6 L1823.9,780.2 L1824.4,778.8 L1825.0,776.5 L1825.6,773.2 L1826.3,769.0 L1826.7,767.1 L1827.1,765.1 L1827.5,763.2 L1827.9,761.2 L1828.3,759.2 L1828.7,757.3 L1829.0,755.3 L1829.3,753.3 L1829.7,751.4 L1830.0,749.4 L1830.3,747.4 L1830.5,745.4 L1830.8,743.4 L1831.1,741.5 L1831.4,739.5 L1831.6,737.5 L1831.8,735.5 L1832.1,733.5 L1832.3,731.5 L1832.5,729.5 L1832.8,727.5 L1833.0,725.5 L1833.2,723.5 L1833.4,721.5 L1833.6,719.5 L1833.8,717.5 L1834.0,715.5 L1834.2,713.5 L1834.4,711.5 L1834.6,709.5 L1834.8,707.5 L1835.0,705.5 L1835.3,703.5 L1835.5,701.5 L1835.7,699.5 L1835.9,697.5 L1836.1,695.5 L1836.4,693.5 L1836.6,691.5 L1836.8,689.5 L1837.1,687.5 L1837.3,685.5 L1837.6,683.5 L1837.9,681.5 L1838.2,679.5 L1838.5,677.5 L1838.8,675.5 L1839.1,673.6 L1839.4,671.6 L1839.8,669.6 L1840.1,667.6 L1840.5,665.7 L1840.9,663.7 L1841.3,661.7 L1841.7,659.8 L1842.1,657.8 L1842.6,655.8 L1843.0,653.9 L1843.5,651.9 L1844.0,650.0"/>
<path class="curve b" d="M203.6,394.6 L205.4,393.6 L207.2,392.7 L209.0,391.8 L210.8,391.0 L212.7,390.2 L214.5,389.5 L216.4,388.8 L218.3,388.1 L220.2,387.5 L222.1,386.9 L224.1,386.4 L226.0,385.9 L227.9,385.4 L229.9,385.0 L231.9,384.6 L233.8,384.3 L235.8,384.0 L237.8,383.7 L239.8,383.5 L241.8,383.3 L243.8,383.2 L245.8,383.1 L247.8,383.0 L249.8,382.9 L251.8,382.9 L253.8,383.0 L255.8,383.0 L257.8,383.2 L259.8,383.3 L261.8,383.5 L263.8,383.7 L265.7,383.9 L267.7,384.2 L269.7,384.5 L271.7,384.8 L273.6,385.2 L275.6,385.6 L277.5,386.0 L279.5,386.5 L281.4,387.0 L283.3,387.5 L285.3,388.0 L287.2,388.6 L289.1,389.2 L291.0,389.9 L292.8,390.5 L294.7,391.2 L296.6,391.9 L298.4,392.7 L300.2,393.5 L302.1,394.2 L303.9,395.1 L305.7,395.9 L307.5,396.8 L309.3,397.7 L311.0,398.6 L312.8,399.6 L314.6,400.5 L316.3,401.5 L318.0,402.5 L319.7,403.6 L321.4,404.6 L323.1,405.7 L324.8,406.8 L326.4,408.0 L328.1,409.1 L329.7,410.3 L331.3,411.4 L332.9,412.6 L334.5,413.9 L336.0,415.1 L337.6,416.4 L339.1,417.6 L340.6,418.9 L342.1,420.3 L343.6,421.6 L345.1,422.9 L346.5,424.3 L348.0,425.7 L349.4,427.1 L350.8,428.5 L352.2,429.9 L353.5,431.3 L354.9,432.8 L356.2,434.2 L357.5,435.7 L358.8,437.2 L360.1,438.7 L361.4,440.2 L362.6,441.8 L363.9,443.3 L365.1,444.9 L366.3,446.4 L367.5,448.0 L368.7,449.6 L369.8,451.2 L371.0,452.8 L372.1,454.5 L373.2,456.1 L374.4,457.7 L375.4,459.4 L376.5,461.1 L377.6,462.8 L378.6,464.4 L379.7,466.2 L380.7,467.9 L381.7,469.6 L382.7,471.3 L383.7,473.1 L384.7,474.8 L385.7,476.6 L386.6,478.3 L387.6,480.1 L388.5,481.9 L389.4,483.7 L390.3,485.5 L391.2,487.3 L392.1,489.1 L393.0,490.9 L393.9,492.7 L394.7,494.6 L395.6,496.4 L396.4,498.2 L397.3,500.1 L398.1,501.9 L398.9,503.8 L399.7,505.7 L400.5,507.5 L401.3,509.4 L402.0,511.3 L402.8,513.2 L403.6,515.1 L404.3,516.9 L405.1,518.8 L405.8,520.7 L406.5,522.6 L407.3,524.5 L408.0,526.4 L408.7,528.4 L409.4,530.3 L410.1,532.2 L410.8,534.1 L411.4,536.0 L412.1,537.9 L412.8,539.9 L413.5,541.8 L414.1,543.7 L414.8,545.6 L415.4,547.6 L416.1,549.5 L416.7,551.4 L417.3,553.3 L417.9,555.3 L418.6,557.2 L419.2,559.1 L419.8,561.1 L420.4,563.0 L421.0,564.9 L421.6,566.9 L422.1,568.8 L422.7,570.7 L423.3,572.7 L423.9,574.6 L424.4,576.6 L425.0,578.5 L425.5,580.5 L426.1,582.4 L426.6,584.3 L427.1,586.3 L427.7,588.2 L428.2,590.2 L428.7,592.1 L429.2,594.1 L429.7,596.0 L430.2,598.0 L430.7,599.9 L431.2,601.9 L431.7,603.8 L432.1,605.8 L432.6,607.8 L433.1,609.7 L433.5,611.7 L434.0,613.6 L434.4,615.6 L434.9,617.5 L435.3,619.5 L435.7,621.5 L436.2,623.4 L436.6,625.4 L437.0,627.3 L437.4,629.3 L437.8,631.3 L438.2,633.2 L438.6,635.2 L439.0,637.2 L439.4,639.1 L439.7,641.1 L440.1,643.1 L440.5,645.0 L440.8,647.0 L441.2,648.9 L441.5,650.9 L441.9,652.9 L442.2,654.8 L442.5,656.8 L442.8,658.8 L443.2,660.8 L443.5,662.7 L443.8,664.7 L444.1,666.7 L444.4,668.6 L444.7,670.6 L445.0,672.6 L445.3,674.5 L445.5,676.5 L445.8,678.5 L446.1,680.4 L446.4,682.4 L446.6,684.4 L446.9,686.4 L447.1,688.3 L447.4,690.3 L447.6,692.3 L447.9,694.2 L448.1,696.2 L448.4,698.2 L448.6,700.2 L448.8,702.1 L449.1,704.1 L449.3,706.1 L449.5,708.1 L449.8,710.0 L450.0,712.0 L450.2,714.0 L450.4,716.0 L450.7,717.9 L450.9,719.9 L451.1,721.9 L451.3,723.9 L451.5,725.9 L451.7,727.8 L452.0,729.8 L452.2,731.8 L452.4,733.8 L452.6,735.7 L452.8,737.7 L453.0,739.7 L453.2,741.7 L453.4,743.7 L453.7,745.6 L453.9,747.6 L454.1,749.6 L454.3,751.6 L454.5,753.6 L454.7,755.5 L454.9,757.5 L455.1,759.5 L455.4,761.5 L455.6,763.5 L455.8,765.4 L456.0,767.4 L456.3,769.4 L456.5,771.4 L456.7,773.4 L456.9,775.4 L457.2,777.3 L457.4,779.3 L457.6,781.3 L457.9,783.3 L458.1,785.3 L458.4,787.3 L458.6,789.3 L458.9,791.2 L459.1,793.2 L459.4,795.2 L459.7,797.2 L459.9,799.2 L460.2,801.2 L460.5,803.2 L460.8,805.1 L461.1,807.1 L461.4,809.1 L461.7,811.1 L462.0,813.1 L462.3,815.1 L462.7,817.1 L463.0,819.1 L463.4,821.1 L463.7,823.0 L464.1,825.0 L464.5,827.0 L464.7,828.5 L464.9,829.6 L465.0,830.4 L465.2,830.8 L465.3,831.0 L465.4,830.8 L465.5,830.4 L465.6,829.6 L465.7,828.5 L465.8,827.0 L466.1,825.0 L466.3,823.1 L466.6,821.1 L466.8,819.1 L467.1,817.1 L467.3,815.1 L467.6,813.1 L467.8,811.2 L468.1,809.2 L468.3,807.2 L468.6,805.2 L468.9,803.2 L469.1,801.3 L469.4,799.3 L469.6,797.3 L469.8,795.3 L470.1,793.4 L470.3,791.4 L470.6,789.4 L470.8,787.4 L471.1,785.5 L471.3,783.5 L471.6,781.5 L471.8,779.5 L472.1,777.6 L472.3,775.6 L472.6,773.6 L472.8,771.7 L473.1,769.7 L473.3,767.7 L473.6,765.8 L473.8,763.8 L474.1,761.8 L474.3,759.8 L474.6,757.9 L474.8,755.9 L475.1,753.9 L475.3,752.0 L475.6,750.0 L475.9,748.0 L476.1,746.1 L476.4,744.1 L476.6,742.1 L476.9,740.2 L477.1,738.2 L477.4,736.2 L477.6,734.2 L477.9,732.3 L478.2,730.3 L478.4,728.3 L478.7,726.4 L478.9,724.4 L479.2,722.4 L479.5,720.4 L479.7,718.5 L480.0,716.5 L480.3,714.5 L480.5,712.6 L480.8,710.6 L481.1,708.6 L481.3,706.6 L481.6,704.7 L481.9,702.7 L482.2,700.7 L482.4,698.7 L482.7,696.7 L483.0,694.8 L483.3,692.8 L483.6,690.8 L483.8,688.8 L484.1,686.8 L484.4,684.9 L484.7,682.9 L485.0,680.9 L485.3,678.9 L485.6,676.9 L485.9,674.9 L486.2,672.9 L486.5,671.0 L486.8,669.0 L487.1,667.0 L487.4,665.0 L487.7,663.0 L488.0,661.0 L488.3,659.0 L488.6,657.0 L488.9,655.0 L489.2,653.1 L489.6,651.1 L489.9,649.1 L490.2,647.1 L490.6,645.1 L490.9,643.1 L491.2,641.1 L491.6,639.1 L491.9,637.1 L492.3,635.2 L492.6,633.2 L493.0,631.2 L493.4,629.2 L493.7,627.2 L494.1,625.2 L494.5,623.3 L494.9,621.3 L495.3,619.3 L495.7,617.3 L496.1,615.4 L496.5,613.4 L496.9,611.4 L497.3,609.4 L497.8,607.5 L498.2,605.5 L498.6,603.5 L499.1,601.6 L499.5,599.6 L500.0,597.7 L500.4,595.7 L500.9,593.8 L501.4,591.8 L501.9,589.8 L502.4,587.9 L502.9,586.0 L503.4,584.0 L503.9,582.1 L504.4,580.1 L504.9,578.2 L505.5,576.3 L506.0,574.3 L506.6,572.4 L507.1,570.5 L507.7,568.6 L508.3,566.7 L508.8,564.7 L509.4,562.8 L510.0,560.9 L510.7,559.0 L511.3,557.1 L511.9,555.2 L512.5,553.3 L513.2,551.5 L513.9,549.6 L514.5,547.7 L515.2,545.8 L515.9,543.9 L516.6,542.1 L517.3,540.2 L518.0,538.3 L518.7,536.5 L519.5,534.6 L520.2,532.8 L521.0,531.0 L521.7,529.1 L522.5,527.3 L523.3,525.5 L524.1,523.6 L524.9,521.8 L525.8,520.0 L526.6,518.2 L527.5,516.4 L528.3,514.6 L529.2,512.8 L530.1,511.0 L531.0,509.2 L531.9,507.5 L532.8,505.7 L533.7,503.9 L534.7,502.2 L535.6,500.4 L536.6,498.7 L537.6,496.9 L538.6,495.2 L539.6,493.5 L540.6,491.7 L541.7,490.0 L542.7,488.3 L543.8,486.6 L544.9,484.9 L546.0,483.2 L547.1,481.5 L548.2,479.8 L549.3,478.2 L550.5,476.5 L551.6,474.9 L552.8,473.2 L554.0,471.6 L555.2,470.0 L556.4,468.3 L557.6,466.7 L558.9,465.1 L560.1,463.6 L561.4,462.0 L562.7,460.4 L564.0,458.9 L565.3,457.3 L566.6,455.8 L567.9,454.3 L569.3,452.8 L570.6,451.3 L572.0,449.8 L573.4,448.4 L574.8,446.9 L576.2,445.5 L577.6,444.1 L579.1,442.7 L580.5,441.3 L582.0,439.9 L583.4,438.5 L584.9,437.2 L586.4,435.9 L587.9,434.6 L589.4,433.3 L591.0,432.0 L592.5,430.7 L594.1,429.5 L595.7,428.3 L597.2,427.1 L598.8,425.9 L600.4,424.7 L602.1,423.6 L603.7,422.5 L605.3,421.4 L607.0,420.3 L608.7,419.2 L610.3,418.2 L612.0,417.2 L613.7,416.2 L615.5,415.2 L617.2,414.2 L618.9,413.3 L620.7,412.4 L622.4,411.5 L624.2,410.7 L626.0,409.8 L627.8,409.0 L629.6,408.2 L631.4,407.5 L633.2,406.7 L635.1,406.0 L636.9,405.3 L638.8,404.7 L640.7,404.0 L642.6,403.4 L644.5,402.8 L646.4,402.3 L648.3,401.8 L650.2,401.2 L652.2,400.8 L654.1,400.3 L656.0,399.9 L658.0,399.5 L660.0,399.1 L661.9,398.8 L663.9,398.5 L665.9,398.2 L667.9,397.9 L669.9,397.7 L671.9,397.5 L673.9,397.3 L675.9,397.2 L677.9,397.0 L679.9,396.9 L681.9,396.9 L683.9,396.8 L686.0,396.8 L688.0,396.8 L690.0,396.9 L692.0,396.9 L694.0,397.0 L696.0,397.1 L698.0,397.3 L700.0,397.4 L702.0,397.6 L704.0,397.9 L706.0,398.1 L708.0,398.4 L710.0,398.7 L712.0,399.0 L713.9,399.4 L715.9,399.8 L717.9,400.2 L719.8,400.6 L721.8,401.1 L723.7,401.6 L725.6,402.1 L727.5,402.6 L729.4,403.2 L731.3,403.8 L733.2,404.4 L735.1,405.1 L737.0,405.8 L738.8,406.5 L740.7,407.2 L742.5,407.9 L744.4,408.7 L746.2,409.5 L748.0,410.3 L749.8,411.2 L751.6,412.0 L753.4,412.9 L755.1,413.8 L756.9,414.8 L758.6,415.7 L760.4,416.7 L762.1,417.7 L763.8,418.7 L765.5,419.7 L767.2,420.8 L768.9,421.9 L770.5,423.0 L772.2,424.1 L773.8,425.2 L775.5,426.4 L777.1,427.5 L778.7,428.7 L780.3,429.9 L781.9,431.1 L783.5,432.4 L785.0,433.6 L786.6,434.9 L788.1,436.2 L789.6,437.5 L791.2,438.8 L792.7,440.1 L794.2,441.5 L795.6,442.8 L797.1,444.2 L798.5,445.6 L800.0,447.0 L801.4,448.4 L802.8,449.8 L804.2,451.2 L805.6,452.7 L807.0,454.1 L808.3,455.6 L809.7,457.1 L811.0,458.6 L812.3,460.1 L813.6,461.6 L814.9,463.1 L816.2,464.6 L817.4,466.2 L818.7,467.7 L819.9,469.3 L821.2,470.9 L822.4,472.4 L823.6,474.0 L824.8,475.6 L825.9,477.2 L827.1,478.9 L828.2,480.5 L829.4,482.1 L830.5,483.8 L831.6,485.4 L832.7,487.1 L833.8,488.7 L834.9,490.4 L835.9,492.1 L837.0,493.8 L838.0,495.5 L839.1,497.2 L840.1,498.9 L841.1,500.6 L842.1,502.4 L843.1,504.1 L844.0,505.9 L845.0,507.6 L846.0,509.4 L846.9,511.1 L847.8,512.9 L848.7,514.7 L849.7,516.5 L850.6,518.3 L851.4,520.1 L852.3,521.9 L853.2,523.7 L854.0,525.5 L854.9,527.3 L855.7,529.1 L856.6,531.0 L857.4,532.8 L858.2,534.7 L859.0,536.5 L859.8,538.4 L860.5,540.2 L861.3,542.1 L862.1,544.0 L862.8,545.8 L863.6,547.7 L864.3,549.6 L865.0,551.5 L865.7,553.4 L866.4,555.2 L867.1,557.1 L867.8,559.0 L868.5,560.9 L869.2,562.9 L869.8,564.8 L870.5,566.7 L871.1,568.6 L871.8,570.5 L872.4,572.4 L873.0,574.4 L873.6,576.3 L874.2,578.2 L874.8,580.2 L875.4,582.1 L876.0,584.0 L876.6,586.0 L877.2,587.9 L877.7,589.8 L878.3,591.8 L878.8,593.7 L879.4,595.7 L879.9,597.6 L880.4,599.6 L880.9,601.5 L881.4,603.5 L882.0,605.4 L882.5,607.4 L882.9,609.3 L883.4,611.3 L883.9,613.2 L884.4,615.2 L884.9,617.2 L885.3,619.1 L885.8,621.1 L886.2,623.0 L886.7,625.0 L887.1,626.9 L887.5,628.9 L888.0,630.9 L888.4,632.8 L888.8,634.8 L889.2,636.7 L889.6,638.7 L890.0,640.7 L890.4,642.6 L890.8,644.6 L891.2,646.5 L891.5,648.5 L891.9,650.5 L892.3,652.4 L892.6,654.4 L893.0,656.4 L893.4,658.3 L893.7,660.3 L894.0,662.3 L894.4,664.2 L894.7,666.2 L895.0,668.2 L895.4,670.1 L895.7,672.1 L896.0,674.1 L896.3,676.0 L896.6,678.0 L896.9,680.0 L897.2,681.9 L897.5,683.9 L897.8,685.9 L898.1,687.9 L898.4,689.8 L898.7,691.8 L898.9,693.8 L899.2,695.7 L899.5,697.7 L899.8,699.7 L900.0,701.7 L900.3,703.6 L900.5,705.6 L900.8,707.6 L901.0,709.6 L901.3,711.5 L901.5,713.5 L901.8,715.5 L902.0,717.5 L902.2,719.5 L902.5,721.4 L902.7,723.4 L902.9,725.4 L903.2,727.4 L903.4,729.3 L903.6,731.3 L903.8,733.3 L904.0,735.3 L904.2,737.3 L904.4,739.2 L904.7,741.2 L904.9,743.2 L905.1,745.2 L905.3,747.2 L905.5,749.2 L905.7,751.1 L905.9,753.1 L906.1,755.1 L906.2,757.1 L906.4,759.1 L906.6,761.1 L906.8,763.0 L907.0,765.0 L907.2,767.0 L907.4,769.0 L907.6,771.0 L907.7,773.0 L907.9,775.0 L908.1,776.9 L908.3,778.9 L908.4,780.9 L908.6,782.9 L908.8,784.9 L908.9,786.9 L909.1,788.9 L909.3,790.9 L909.4,792.8 L909.6,794.8 L909.8,796.8 L909.9,798.8 L910.1,800.8 L910.3,802.8 L910.4,804.8 L910.6,806.8 L910.7,808.8 L910.9,810.7 L911.0,812.7 L911.2,814.7 L911.3,816.7 L911.5,818.7 L911.6,820.7 L911.8,822.7 L911.9,824.7 L912.0,826.7 L912.2,828.7 L912.3,830.7 L912.5,832.7 L912.6,834.7 L912.8,836.6 L912.9,838.6 L913.0,840.6 L913.2,842.6 L913.3,844.6 L913.4,846.6 L913.6,848.6 L913.7,850.6 L913.8,852.6 L914.0,854.6 L914.1,856.6 L914.2,858.6 L914.3,860.6 L914.5,862.6 L914.6,864.6 L914.7,866.6 L914.8,868.6 L915.0,870.6 L915.1,872.6 L915.2,874.6 L915.3,876.5 L915.5,878.5 L915.6,880.5 L915.7,882.5 L915.8,884.5 L916.0,886.5 L916.1,888.5 L916.2,890.5 L916.3,892.5 L916.4,894.5 L916.6,896.5 L916.7,898.5 L916.8,900.5 L916.9,902.5 L917.0,904.5 L917.2,906.5 L917.3,908.5 L917.4,910.5 L917.5,912.5 L917.6,914.5 L917.8,916.5 L917.9,918.5 L918.0,920.5 L918.1,922.5 L918.2,924.5 L918.4,926.5 L918.5,928.5 L918.6,930.5 L918.7,932.5 L918.8,934.5 L919.0,936.5 L919.1,938.5 L919.2,940.5 L919.3,942.5 L919.5,944.5 L919.6,946.5 L919.7,948.5 L919.8,950.5 L920.0,952.5 L920.1,954.5 L920.2,956.5 L920.3,958.5 L920.5,960.5 L920.6,962.5 L920.7,964.5 L920.9,966.5 L921.0,968.5 L921.2,966.5 L921.3,964.5 L921.5,962.5 L921.7,960.5 L921.8,958.5 L922.0,956.5 L922.1,954.5 L922.3,952.5 L922.4,950.5 L922.6,948.5 L922.7,946.5 L922.9,944.5 L923.0,942.5 L923.2,940.5 L923.3,938.5 L923.4,936.5 L923.6,934.5 L923.7,932.5 L923.8,930.5 L924.0,928.5 L924.1,926.5 L924.2,924.5 L924.3,922.5 L924.5,920.5 L924.6,918.5 L924.7,916.5 L924.8,914.4 L924.9,912.4 L925.1,910.4 L925.2,908.4 L925.3,906.4 L925.4,904.4 L925.5,902.4 L925.6,900.4 L925.8,898.4 L925.9,896.4 L926.0,894.5 L926.1,892.5 L926.2,890.5 L926.3,888.5 L926.4,886.5 L926.5,884.5 L926.6,882.5 L926.7,880.5 L926.8,878.5 L926.9,876.5 L927.1,874.5 L927.2,872.5 L927.3,870.5 L927.4,868.5 L927.5,866.5 L927.6,864.5 L927.7,862.5 L927.8,860.5 L927.9,858.5 L928.0,856.5 L928.1,854.5 L928.2,852.5 L928.3,850.5 L928.4,848.5 L928.5,846.5 L928.6,844.5 L928.7,842.5 L928.9,840.5 L929.0,838.5 L929.1,836.5 L929.2,834.6 L929.3,832.6 L929.4,830.6 L929.5,828.6 L929.6,826.6 L929.8,824.6 L929.9,822.6 L930.0,820.6 L930.1,818.6 L930.2,816.6 L930.3,814.6 L930.5,812.6 L930.6,810.7 L930.7,808.7 L930.8,806.7 L931.0,804.7 L931.1,802.7 L931.2,800.7 L931.4,798.7 L931.5,796.7 L931.6,794.7 L931.8,792.8 L931.9,790.8 L932.0,788.8 L932.2,786.8 L932.3,784.8 L932.5,782.8 L932.6,780.8 L932.8,778.8 L932.9,776.9 L933.1,774.9 L933.2,772.9 L933.4,770.9 L933.6,768.9 L933.7,766.9 L933.9,765.0 L934.1,763.0 L934.2,761.0 L934.4,759.0 L934.6,757.0 L934.8,755.0 L935.0,753.1 L935.1,751.1 L935.3,749.1 L935.5,747.1 L935.7,745.1 L935.9,743.2 L936.1,741.2 L936.3,739.2 L936.5,737.2 L936.7,735.2 L936.9,733.3 L937.2,731.3 L937.4,729.3 L937.6,727.3 L937.8,725.4 L938.1,723.4 L938.3,721.4 L938.5,719.4 L938.8,717.4 L939.0,715.5 L939.2,713.5 L939.5,711.5 L939.8,709.6 L940.0,707.6 L940.3,705.6 L940.5,703.6 L940.8,701.7 L941.1,699.7 L941.4,697.7 L941.6,695.8 L941.9,693.8 L942.2,691.8 L942.5,689.8 L942.8,687.9 L943.1,685.9 L943.4,683.9 L943.7,682.0 L944.1,680.0 L944.4,678.0 L944.7,676.1 L945.0,674.1 L945.4,672.1 L945.7,670.2 L946.1,668.2 L946.4,666.3 L946.8,664.3 L947.1,662.3 L947.5,660.4 L947.9,658.4 L948.2,656.4 L948.6,654.5 L949.0,652.5 L949.4,650.6 L949.8,648.6 L950.2,646.6 L950.6,644.7 L951.0,642.7 L951.4,640.8 L951.9,638.8 L952.3,636.9 L952.7,634.9 L953.2,632.9 L953.6,631.0 L954.1,629.0 L954.5,627.1 L955.0,625.1 L955.5,623.2 L955.9,621.2 L956.4,619.3 L956.9,617.3 L957.4,615.4 L957.9,613.4 L958.4,611.5 L958.9,609.5 L959.5,607.6 L960.0,605.6 L960.5,603.7 L961.0,601.7 L961.6,599.8 L962.1,597.8 L962.7,595.9 L963.3,594.0 L963.8,592.0 L964.4,590.1 L965.0,588.1 L965.6,586.2 L966.2,584.2 L966.8,582.3 L967.4,580.4 L968.0,578.4 L968.7,576.5 L969.3,574.6 L970.0,572.6 L970.6,570.7 L971.3,568.8 L971.9,566.8 L972.6,564.9 L973.3,563.0 L974.0,561.1 L974.7,559.2 L975.4,557.3 L976.1,555.4 L976.8,553.5 L977.6,551.6 L978.3,549.7 L979.1,547.8 L979.8,545.9 L980.6,544.0 L981.4,542.1 L982.1,540.2 L982.9,538.4 L983.7,536.5 L984.6,534.7 L985.4,532.8 L986.2,531.0 L987.1,529.1 L987.9,527.3 L988.8,525.5 L989.6,523.6 L990.5,521.8 L991.4,520.0 L992.3,518.2 L993.2,516.4 L994.2,514.6 L995.1,512.8 L996.0,511.1 L997.0,509.3 L998.0,507.5 L998.9,505.8 L999.9,504.0 L1000.9,502.3 L1001.9,500.6 L1002.9,498.8 L1004.0,497.1 L1005.0,495.4 L1006.1,493.7 L1007.1,492.1 L1008.2,490.4 L1009.3,488.7 L1010.4,487.1 L1011.5,485.4 L1012.6,483.8 L1013.8,482.2 L1014.9,480.5 L1016.1,478.9 L1017.3,477.3 L1018.4,475.8 L1019.6,474.2 L1020.9,472.6 L1022.1,471.1 L1023.3,469.5 L1024.6,468.0 L1025.8,466.5 L1027.1,465.0 L1028.4,463.5 L1029.7,462.0 L1031.0,460.6 L1032.3,459.1 L1033.7,457.7 L1035.0,456.2 L1036.4,454.8 L1037.8,453.4 L1039.2,452.0 L1040.6,450.7 L1042.0,449.3 L1043.4,448.0 L1044.9,446.6 L1046.4,445.3 L1047.8,444.0 L1049.3,442.7 L1050.9,441.4 L1052.4,440.2 L1053.9,438.9 L1055.5,437.7 L1057.0,436.5 L1058.6,435.3 L1060.2,434.1 L1061.8,433.0 L1063.5,431.8 L1065.1,430.7 L1066.8,429.6 L1068.4,428.5 L1070.1,427.4 L1071.8,426.3 L1073.5,425.3 L1075.3,424.2 L1077.0,423.2 L1078.8,422.2 L1080.5,421.2 L1082.3,420.3 L1084.1,419.3 L1085.9,418.4 L1087.7,417.5 L1089.5,416.7 L1091.3,415.8 L1093.1,415.0 L1095.0,414.1 L1096.8,413.3 L1098.7,412.6 L1100.6,411.8 L1102.5,411.1 L1104.3,410.4 L1106.2,409.7 L1108.1,409.0 L1110.0,408.4 L1112.0,407.8 L1113.9,407.2 L1115.8,406.6 L1117.7,406.1 L1119.7,405.5 L1121.6,405.0 L1123.6,404.6 L1125.5,404.1 L1127.5,403.7 L1129.4,403.3 L1131.4,402.9 L1133.3,402.6 L1135.3,402.2 L1137.3,401.9 L1139.3,401.7 L1141.2,401.4 L1143.2,401.2 L1145.2,401.0 L1147.2,400.8 L1149.1,400.7 L1151.1,400.6 L1153.1,400.5 L1155.1,400.5 L1157.1,400.5 L1159.0,400.5 L1161.0,400.5 L1163.0,400.6 L1165.0,400.7 L1166.9,400.8 L1168.9,400.9 L1170.9,401.1 L1172.8,401.3 L1174.8,401.5 L1176.8,401.8 L1178.7,402.1 L1180.7,402.4 L1182.6,402.7 L1184.6,403.1 L1186.5,403.5 L1188.4,403.9 L1190.4,404.3 L1192.3,404.8 L1194.2,405.3 L1196.1,405.8 L1198.0,406.3 L1199.9,406.9 L1201.8,407.4 L1203.7,408.1 L1205.6,408.7 L1207.5,409.3 L1209.3,410.0 L1211.2,410.7 L1213.1,411.4 L1214.9,412.2 L1216.7,413.0 L1218.6,413.7 L1220.4,414.6 L1222.2,415.4 L1224.0,416.2 L1225.8,417.1 L1227.5,418.0 L1229.3,418.9 L1231.1,419.9 L1232.8,420.8 L1234.6,421.8 L1236.3,422.8 L1238.0,423.9 L1239.7,424.9 L1241.4,426.0 L1243.1,427.0 L1244.7,428.1 L1246.4,429.3 L1248.0,430.4 L1249.6,431.6 L1251.3,432.7 L1252.8,433.9 L1254.4,435.1 L1256.0,436.4 L1257.6,437.6 L1259.1,438.9 L1260.6,440.1 L1262.1,441.4 L1263.6,442.8 L1265.1,444.1 L1266.6,445.4 L1268.0,446.8 L1269.5,448.2 L1270.9,449.6 L1272.3,451.0 L1273.7,452.4 L1275.1,453.8 L1276.4,455.3 L1277.8,456.8 L1279.1,458.3 L1280.4,459.8 L1281.7,461.3 L1283.0,462.8 L1284.3,464.3 L1285.6,465.9 L1286.8,467.4 L1288.1,469.0 L1289.3,470.6 L1290.5,472.2 L1291.7,473.8 L1292.9,475.4 L1294.1,477.1 L1295.2,478.7 L1296.4,480.4 L1297.5,482.0 L1298.6,483.7 L1299.7,485.4 L1300.8,487.1 L1301.9,488.8 L1303.0,490.5 L1304.0,492.3 L1305.0,494.0 L1306.1,495.7 L1307.1,497.5 L1308.1,499.2 L1309.1,501.0 L1310.1,502.8 L1311.0,504.6 L1312.0,506.4 L1313.0,508.2 L1313.9,510.0 L1314.8,511.8 L1315.7,513.6 L1316.6,515.4 L1317.5,517.3 L1318.4,519.1 L1319.2,521.0 L1320.1,522.8 L1320.9,524.7 L1321.8,526.5 L1322.6,528.4 L1323.4,530.2 L1324.2,532.1 L1325.0,534.0 L1325.8,535.9 L1326.5,537.8 L1327.3,539.6 L1328.0,541.5 L1328.8,543.4 L1329.5,545.3 L1330.2,547.2 L1330.9,549.1 L1331.6,551.0 L1332.3,552.9 L1333.0,554.8 L1333.6,556.7 L1334.3,558.6 L1334.9,560.5 L1335.6,562.5 L1336.2,564.4 L1336.8,566.3 L1337.4,568.2 L1338.0,570.1 L1338.6,572.0 L1339.2,574.0 L1339.8,575.9 L1340.3,577.8 L1340.9,579.7 L1341.4,581.7 L1342.0,583.6 L1342.5,585.5 L1343.0,587.4 L1343.6,589.4 L1344.1,591.3 L1344.6,593.2 L1345.1,595.2 L1345.6,597.1 L1346.1,599.0 L1346.5,601.0 L1347.0,602.9 L1347.5,604.9 L1347.9,606.8"/>
<path class="curve b" style="stroke-dasharray:35.3 46.4" d="M1347.9,606.8 L1348.4,608.7 L1348.8,610.7 L1349.3,612.6 L1349.7,614.6 L1350.1,616.5 L1350.6,618.5 L1351.0,620.4 L1351.4,622.4 L1351.8,624.3 L1352.2,626.3 L1352.6,628.2 L1353.0,630.2 L1353.4,632.1 L1353.8,634.1 L1354.2,636.0 L1354.6,638.0 L1354.9,639.9 L1355.3,641.9 L1355.7,643.8 L1356.0,645.8 L1356.4,647.8 L1356.8,649.7 L1357.1,651.7 L1357.5,653.6 L1357.8,655.6 L1358.2,657.6 L1358.5,659.5 L1358.8,661.5 L1359.2,663.4 L1359.5,665.4 L1359.8,667.4 L1360.2,669.3 L1360.5,671.3 L1360.8,673.3 L1361.1,675.2 L1361.4,677.2 L1361.7,679.2 L1362.1,681.1 L1362.4,683.1 L1362.7,685.1 L1362.9,687.0 L1363.2,689.0 L1363.5,691.0 L1363.8,693.0 L1364.1,694.9 L1364.4,696.9 L1364.7,698.9 L1364.9,700.9 L1365.2,702.8 L1365.5,704.8 L1365.7,706.8 L1366.0,708.8 L1366.3,710.7 L1366.5,712.7 L1366.8,714.7 L1367.0,716.7 L1367.3,718.6 L1367.5,720.6 L1367.8,722.6 L1368.0,724.6 L1368.3,726.6 L1368.5,728.5 L1368.7,730.5 L1369.0,732.5 L1369.2,734.5 L1369.4,736.5 L1369.6,738.5 L1369.9,740.4 L1370.1,742.4 L1370.3,744.4 L1370.5,746.4 L1370.7,748.4 L1370.9,750.4 L1371.1,752.3 L1371.3,754.3 L1371.5,756.3 L1371.7,758.3 L1371.9,760.3 L1372.1,762.3 L1372.3,764.3 L1372.5,766.3 L1372.7,768.2 L1372.9,770.2 L1373.0,772.2 L1373.2,774.2 L1373.4,776.2 L1373.6,778.2 L1373.7,780.2 L1373.9,782.2 L1374.1,784.2 L1374.3,786.2 L1374.4,788.1 L1374.6,790.1 L1374.7,792.1 L1374.9,794.1 L1375.1,796.1 L1375.2,798.1 L1375.4,800.1 L1375.5,802.1 L1375.7,804.1 L1375.8,806.1 L1376.0,808.1 L1376.1,810.1 L1376.2,812.1 L1376.4,814.1 L1376.5,816.1 L1376.7,818.1 L1376.8,820.1 L1376.9,822.1 L1377.1,824.1 L1377.2,826.1 L1377.3,828.0 L1377.4,830.0 L1377.6,832.0 L1377.7,834.0 L1377.8,836.0 L1377.9,838.0 L1378.1,840.0 L1378.2,842.0 L1378.3,844.0 L1378.4,846.0 L1378.5,848.0 L1378.6,850.0 L1378.7,852.0 L1378.8,854.0 L1378.9,856.0 L1379.1,858.0 L1379.2,860.0 L1379.3,862.0 L1379.4,864.0 L1379.5,866.0 L1379.6,868.0 L1379.7,870.0 L1379.8,872.0 L1379.8,874.0 L1379.9,876.0 L1380.0,878.0 L1380.1,880.0 L1380.2,882.0 L1380.3,884.0 L1380.4,886.0 L1380.5,888.0 L1380.6,890.0 L1380.7,892.1 L1380.7,894.1 L1380.8,896.1 L1380.9,898.1 L1381.0,900.1 L1381.1,902.1 L1381.2,904.1 L1381.2,906.1 L1381.3,908.1 L1381.4,910.1 L1381.5,912.1 L1381.5,914.1 L1381.6,916.1 L1381.7,918.1 L1381.8,920.1 L1381.8,922.1 L1381.9,924.1 L1382.0,926.1 L1382.1,928.1 L1382.1,930.1 L1382.2,932.1 L1382.3,934.1 L1382.3,936.1 L1382.4,938.1 L1382.5,940.1 L1382.5,942.1 L1382.6,944.1 L1382.7,946.1 L1382.7,948.1 L1382.8,950.1 L1382.9,952.1 L1382.9,954.1 L1383.0,956.1 L1383.1,958.1 L1383.1,960.1 L1383.2,962.1 L1383.2,964.1 L1383.3,966.1 L1383.4,968.1 L1383.4,970.1 L1383.5,972.1 L1383.6,974.1 L1383.6,976.1 L1383.7,978.1 L1383.7,980.1 L1383.8,982.1 L1383.9,984.1 L1383.9,986.1 L1384.0,988.1 L1384.1,990.1 L1384.1,992.1 L1384.2,994.1 L1384.2,996.1 L1384.3,998.1 L1384.4,1000.1 L1384.4,1002.1 L1384.5,1004.1 L1384.5,1006.1 L1384.6,1008.1 L1384.7,1010.1 L1384.7,1012.1 L1384.8,1014.1 L1384.9,1016.1 L1384.9,1018.1 L1385.0,1020.1 L1385.1,1022.1 L1385.1,1024.1 L1385.2,1026.1 L1385.2,1028.1 L1385.3,1030.1 L1385.4,1032.1 L1385.4,1034.1 L1385.5,1036.0 L1385.6,1038.0 L1385.7,1040.0 L1385.7,1042.0 L1385.8,1044.0 L1385.9,1046.0 L1385.9,1048.0 L1386.0,1050.0 L1386.1,1048.0 L1386.1,1046.0 L1386.2,1044.0 L1386.3,1042.0 L1386.3,1040.0 L1386.4,1038.0 L1386.5,1036.0 L1386.5,1034.0 L1386.6,1032.1 L1386.7,1030.1 L1386.7,1028.1 L1386.8,1026.1 L1386.9,1024.1 L1386.9,1022.1 L1387.0,1020.1 L1387.0,1018.1 L1387.1,1016.1 L1387.2,1014.1 L1387.2,1012.1 L1387.3,1010.1 L1387.3,1008.1 L1387.4,1006.1 L1387.5,1004.1 L1387.5,1002.1 L1387.6,1000.1 L1387.6,998.1 L1387.7,996.1 L1387.8,994.1 L1387.8,992.1 L1387.9,990.1 L1387.9,988.1 L1388.0,986.1 L1388.1,984.1 L1388.1,982.1 L1388.2,980.1 L1388.2,978.1 L1388.3,976.1 L1388.3,974.1 L1388.4,972.1 L1388.5,970.1 L1388.5,968.1 L1388.6,966.1 L1388.6,964.1 L1388.7,962.1 L1388.8,960.1 L1388.8,958.1 L1388.9,956.1 L1388.9,954.1 L1389.0,952.1 L1389.0,950.1 L1389.1,948.1 L1389.2,946.1 L1389.2,944.1 L1389.3,942.1 L1389.4,940.1 L1389.4,938.1 L1389.5,936.1 L1389.5,934.1 L1389.6,932.1 L1389.7,930.1 L1389.7,928.1 L1389.8,926.0 L1389.9,924.0 L1389.9,922.0 L1390.0,920.0 L1390.1,918.0 L1390.1,916.0 L1390.2,914.0 L1390.3,912.0 L1390.3,910.0 L1390.4,908.0 L1390.5,906.0 L1390.5,904.0 L1390.6,902.0 L1390.7,900.0 L1390.8,898.0 L1390.8,896.0 L1390.9,894.0 L1391.0,892.0 L1391.1,890.0 L1391.1,888.0 L1391.2,886.0 L1391.3,884.0 L1391.4,882.0 L1391.4,880.0 L1391.5,878.0 L1391.6,876.0 L1391.7,874.0 L1391.8,872.0 L1391.9,870.0 L1391.9,868.0 L1392.0,866.0 L1392.1,864.0 L1392.2,862.0 L1392.3,860.0 L1392.4,858.0 L1392.5,856.0 L1392.6,854.0 L1392.7,852.0 L1392.8,850.0 L1392.9,848.0 L1393.0,846.0 L1393.1,844.0 L1393.2,842.0 L1393.3,840.0 L1393.4,838.0 L1393.5,836.0 L1393.6,834.0 L1393.7,832.0 L1393.8,830.0 L1393.9,828.0 L1394.0,826.0 L1394.1,824.0 L1394.2,822.0 L1394.3,820.0 L1394.5,818.0 L1394.6,816.0 L1394.7,814.0 L1394.8,812.0 L1394.9,810.0 L1395.1,808.0 L1395.2,806.0 L1395.3,804.0 L1395.4,802.0 L1395.6,800.0 L1395.7,798.0 L1395.8,796.0 L1396.0,794.0 L1396.1,792.0 L1396.3,790.1 L1396.4,788.1 L1396.5,786.1 L1396.7,784.1 L1396.8,782.1 L1397.0,780.1 L1397.1,778.1 L1397.3,776.1 L1397.4,774.1 L1397.6,772.1 L1397.7,770.1 L1397.9,768.1 L1398.1,766.1 L1398.2,764.2 L1398.4,762.2 L1398.6,760.2 L1398.7,758.2 L1398.9,756.2 L1399.1,754.2 L1399.3,752.2 L1399.5,750.2 L1399.6,748.2 L1399.8,746.3 L1400.0,744.3 L1400.2,742.3 L1400.4,740.3 L1400.6,738.3 L1400.8,736.3 L1401.0,734.3 L1401.2,732.4 L1401.4,730.4 L1401.6,728.4 L1401.9,726.4 L1402.1,724.4 L1402.3,722.4 L1402.5,720.5 L1402.7,718.5 L1403.0,716.5 L1403.2,714.5 L1403.4,712.5 L1403.7,710.6 L1403.9,708.6 L1404.2,706.6 L1404.4,704.6 L1404.7,702.6 L1404.9,700.7 L1405.2,698.7 L1405.5,696.7 L1405.7,694.7 L1406.0,692.7 L1406.3,690.8 L1406.5,688.8 L1406.8,686.8 L1407.1,684.8 L1407.4,682.9 L1407.7,680.9 L1408.0,678.9 L1408.3,677.0 L1408.6,675.0 L1408.9,673.0 L1409.2,671.0 L1409.5,669.1 L1409.9,667.1 L1410.2,665.1 L1410.5,663.2 L1410.8,661.2 L1411.2,659.2 L1411.5,657.3 L1411.9,655.3 L1412.2,653.3 L1412.6,651.4 L1412.9,649.4 L1413.3,647.4 L1413.7,645.5 L1414.0,643.5 L1414.4,641.5 L1414.8,639.6 L1415.2,637.6 L1415.6,635.7 L1416.0,633.7 L1416.4,631.7 L1416.8,629.8 L1417.2,627.8 L1417.6,625.9 L1418.0,623.9 L1418.4,622.0 L1418.9,620.0 L1419.3,618.0 L1419.7,616.1 L1420.2,614.1 L1420.6,612.2 L1421.1,610.2 L1421.5,608.3 L1422.0,606.3 L1422.5,604.4 L1422.9,602.4 L1423.4,600.5 L1423.9,598.5 L1424.4,596.6 L1424.9,594.6 L1425.4,592.7 L1425.9,590.7 L1426.4,588.8 L1426.9,586.9 L1427.5,584.9 L1428.0,583.0 L1428.5,581.0 L1429.1,579.1 L1429.6,577.2 L1430.2,575.2 L1430.7,573.3 L1431.3,571.4 L1431.9,569.4 L1432.5,567.5 L1433.0,565.6 L1433.6,563.7 L1434.2,561.7 L1434.9,559.8 L1435.5,557.9 L1436.1,556.0 L1436.7,554.1 L1437.4,552.2 L1438.0,550.3 L1438.7,548.4 L1439.4,546.5 L1440.0,544.6 L1440.7,542.7 L1441.4,540.8 L1442.1,538.9 L1442.8,537.1 L1443.5,535.2 L1444.3,533.3 L1445.0,531.5 L1445.7,529.6 L1446.5,527.7 L1447.3,525.9 L1448.0,524.0 L1448.8,522.2 L1449.6,520.4 L1450.4,518.5 L1451.2,516.7 L1452.0,514.9 L1452.9,513.1 L1453.7,511.3 L1454.6,509.5 L1455.4,507.7 L1456.3,505.9 L1457.2,504.1 L1458.1,502.3 L1459.0,500.5 L1459.9,498.8 L1460.9,497.0 L1461.8,495.3 L1462.8,493.5 L1463.7,491.8 L1464.7,490.0 L1465.7,488.3 L1466.7,486.6 L1467.7,484.9 L1468.7,483.2 L1469.8,481.5 L1470.8,479.8 L1471.9,478.1 L1473.0,476.5 L1474.0,474.8 L1475.1,473.1 L1476.3,471.5 L1477.4,469.9 L1478.5,468.2 L1479.7,466.6 L1480.9,465.0 L1482.0,463.4 L1483.2,461.8 L1484.4,460.2 L1485.7,458.6 L1486.9,457.1 L1488.2,455.5 L1489.4,453.9 L1490.7,452.4 L1492.0,450.9 L1493.3,449.4 L1494.6,447.9 L1496.0,446.4 L1497.3,444.9 L1498.7,443.4 L1500.1,441.9 L1501.5,440.5 L1502.9,439.0 L1504.3,437.6 L1505.8,436.2 L1507.2,434.7 L1508.7,433.3 L1510.2,432.0 L1511.7,430.6 L1513.2,429.2 L1514.7,427.9 L1516.3,426.6 L1517.8,425.2 L1519.4,423.9 L1521.0,422.7 L1522.6,421.4 L1524.2,420.1 L1525.8,418.9 L1527.4,417.7 L1529.1,416.5 L1530.7,415.3 L1532.4,414.2 L1534.1,413.0 L1535.8,411.9 L1537.5,410.8 L1539.2,409.7 L1540.9,408.6 L1542.6,407.6 L1544.4,406.6 L1546.1,405.6 L1547.9,404.6 L1549.7,403.6 L1551.4,402.7 L1553.2,401.8 L1555.0,400.9 L1556.8,400.1 L1558.7,399.2 L1560.5,398.4 L1562.3,397.6 L1564.2,396.9 L1566.0,396.1 L1567.9,395.4 L1569.7,394.7 L1571.6,394.1 L1573.5,393.5 L1575.4,392.9 L1577.3,392.3 L1579.2,391.8 L1581.1,391.2 L1583.0,390.8 L1584.9,390.3 L1586.9,389.9 L1588.8,389.5 L1590.7,389.1 L1592.7,388.8 L1594.6,388.5 L1596.6,388.2 L1598.5,388.0 L1600.5,387.8 L1602.5,387.6 L1604.4,387.5 L1606.4,387.4 L1608.4,387.3 L1610.3,387.3 L1612.3,387.2 L1614.3,387.2 L1616.3,387.3 L1618.2,387.4 L1620.2,387.5 L1622.2,387.6 L1624.2,387.7 L1626.1,387.9 L1628.1,388.1 L1630.1,388.4 L1632.0,388.7 L1634.0,389.0 L1636.0,389.3 L1637.9,389.6 L1639.9,390.0 L1641.8,390.4 L1643.7,390.9 L1645.7,391.3 L1647.6,391.8 L1649.5,392.3 L1651.4,392.9 L1653.3,393.5 L1655.2,394.1 L1657.1,394.7 L1659.0,395.3 L1660.9,396.0 L1662.7,396.7 L1664.6,397.4 L1666.4,398.2 L1668.2,399.0 L1670.0,399.8 L1671.8,400.6 L1673.6,401.4 L1675.4,402.3 L1677.2,403.2 L1678.9,404.1 L1680.6,405.1 L1682.4,406.1 L1684.1,407.0 L1685.7,408.1 L1687.4,409.1 L1689.1,410.2 L1690.7,411.2 L1692.3,412.4 L1693.9,413.5 L1695.5,414.6 L1697.1,415.8 L1698.7,417.0 L1700.2,418.2 L1701.7,419.4 L1703.3,420.7 L1704.8,422.0 L1706.2,423.3 L1707.7,424.6 L1709.2,425.9 L1710.6,427.2 L1712.0,428.6 L1713.4,430.0 L1714.8,431.4 L1716.2,432.8 L1717.6,434.3 L1718.9,435.7 L1720.2,437.2 L1721.6,438.7 L1722.9,440.2 L1724.1,441.7 L1725.4,443.2 L1726.7,444.8 L1727.9,446.3 L1729.2,447.9 L1730.4,449.5 L1731.6,451.1 L1732.8,452.7 L1734.0,454.3 L1735.1,456.0 L1736.3,457.6 L1737.4,459.3 L1738.6,461.0 L1739.7,462.7 L1740.8,464.4 L1741.9,466.1 L1742.9,467.8 L1744.0,469.6 L1745.1,471.3 L1746.1,473.1 L1747.1,474.8 L1748.1,476.6 L1749.1,478.4 L1750.1,480.2 L1751.1,482.0 L1752.1,483.8 L1753.0,485.6 L1754.0,487.4 L1754.9,489.2 L1755.8,491.1 L1756.7,492.9 L1757.6,494.8 L1758.5,496.6 L1759.4,498.5 L1760.2,500.3 L1761.1,502.2 L1761.9,504.1 L1762.7,506.0 L1763.6,507.8 L1764.4,509.7 L1765.2,511.6 L1765.9,513.5 L1766.7,515.4 L1767.5,517.3 L1768.2,519.2 L1769.0,521.1 L1769.7,523.0 L1770.4,524.9 L1771.1,526.8 L1771.8,528.7 L1772.5,530.6 L1773.2,532.5 L1773.9,534.4 L1774.6,536.4 L1775.2,538.3 L1775.9,540.2 L1776.5,542.1 L1777.1,544.0 L1777.7,545.9 L1778.3,547.9 L1778.9,549.8 L1779.5,551.7 L1780.1,553.6 L1780.7,555.5 L1781.3,557.5 L1781.8,559.4 L1782.4,561.3 L1782.9,563.2 L1783.5,565.2 L1784.0,567.1 L1784.5,569.0 L1785.0,571.0 L1785.5,572.9 L1786.0,574.8 L1786.5,576.8 L1787.0,578.7 L1787.5,580.6 L1788.0,582.6 L1788.4,584.5 L1788.9,586.4 L1789.4,588.4 L1789.8,590.3 L1790.3,592.3 L1790.7,594.2 L1791.1,596.1 L1791.6,598.1 L1792.0,600.0 L1792.4,602.0 L1792.8,603.9 L1793.2,605.9 L1793.6,607.8 L1794.0,609.8 L1794.4,611.7 L1794.8,613.7 L1795.2,615.6 L1795.5,617.6 L1795.9,619.5 L1796.3,621.5 L1796.6,623.4 L1797.0,625.4 L1797.4,627.3 L1797.7,629.3 L1798.1,631.2 L1798.4,633.2 L1798.7,635.1 L1799.1,637.1 L1799.4,639.0 L1799.8,641.0 L1800.1,643.0 L1800.4,644.9 L1800.7,646.9 L1801.1,648.8 L1801.4,650.8 L1801.7,652.8 L1802.0,654.7 L1802.3,656.7 L1802.6,658.6 L1803.0,660.6 L1803.3,662.6 L1803.6,664.5 L1803.9,666.5 L1804.2,668.5 L1804.5,670.4 L1804.8,672.4 L1805.1,674.4 L1805.4,676.3 L1805.7,678.3 L1806.0,680.3 L1806.3,682.2 L1806.6,684.2 L1806.9,686.1 L1807.2,688.1 L1807.5,690.1 L1807.8,692.1 L1808.1,694.0 L1808.4,696.0 L1808.7,698.0 L1809.0,699.9 L1809.3,701.9 L1809.6,703.9 L1809.9,705.8 L1810.2,707.8 L1810.5,709.8 L1810.8,711.7 L1811.1,713.7 L1811.4,715.7 L1811.7,717.6 L1812.0,719.6 L1812.4,721.6 L1812.7,723.5 L1813.0,725.5 L1813.3,727.5 L1813.6,729.5 L1814.0,731.4 L1814.3,733.4 L1814.6,735.4 L1815.0,737.3 L1815.3,739.3 L1815.6,741.3 L1816.0,743.2 L1816.3,745.2 L1816.7,747.2 L1817.0,749.1 L1817.4,751.1 L1817.8,753.1 L1818.1,755.0 L1818.5,757.0 L1818.9,759.0 L1819.2,760.9 L1819.6,762.9 L1820.0,764.9 L1820.4,766.8 L1820.8,768.8 L1821.3,773.0 L1821.7,776.3 L1822.2,778.7 L1822.8,780.1 L1823.3,780.6 L1823.9,780.2 L1824.4,778.8 L1825.0,776.5 L1825.6,773.2 L1826.3,769.0 L1826.7,767.1 L1827.1,765.1 L1827.5,763.2 L1827.9,761.2 L1828.3,759.2 L1828.7,757.3 L1829.0,755.3 L1829.3,753.3 L1829.7,751.4 L1830.0,749.4 L1830.3,747.4 L1830.5,745.4 L1830.8,743.4 L1831.1,741.5 L1831.4,739.5 L1831.6,737.5 L1831.8,735.5 L1832.1,733.5 L1832.3,731.5 L1832.5,729.5 L1832.8,727.5 L1833.0,725.5 L1833.2,723.5 L1833.4,721.5 L1833.6,719.5 L1833.8,717.5 L1834.0,715.5 L1834.2,713.5 L1834.4,711.5 L1834.6,709.5 L1834.8,707.5 L1835.0,705.5 L1835.3,703.5 L1835.5,701.5 L1835.7,699.5 L1835.9,697.5 L1836.1,695.5 L1836.4,693.5 L1836.6,691.5 L1836.8,689.5 L1837.1,687.5 L1837.3,685.5 L1837.6,683.5 L1837.9,681.5 L1838.2,679.5 L1838.5,677.5 L1838.8,675.5 L1839.1,673.6 L1839.4,671.6 L1839.8,669.6 L1840.1,667.6 L1840.5,665.7 L1840.9,663.7 L1841.3,661.7 L1841.7,659.8 L1842.1,657.8 L1842.6,655.8 L1843.0,653.9 L1843.5,651.9 L1844.0,650.0"/>
<path class="curve g" d="M203.6,405.0 L205.4,404.2 L207.3,403.5 L209.1,402.7 L211.0,402.1 L212.9,401.4 L214.8,400.8 L216.8,400.2 L218.7,399.6 L220.7,399.1 L222.6,398.6 L224.6,398.1 L226.6,397.7 L228.6,397.3 L230.6,396.9 L232.6,396.6 L234.6,396.3 L236.6,396.0 L238.7,395.8 L240.7,395.6 L242.7,395.4 L244.8,395.3 L246.8,395.1 L248.8,395.1 L250.9,395.0 L252.9,395.0 L254.9,395.0 L256.9,395.1 L258.9,395.1 L261.0,395.3 L263.0,395.4 L265.0,395.6 L267.0,395.8 L268.9,396.0 L270.9,396.3 L272.9,396.6 L274.8,396.9 L276.8,397.3 L278.7,397.7 L280.6,398.1 L282.5,398.6 L284.4,399.1 L286.3,399.6 L288.2,400.1 L290.1,400.7 L292.0,401.3 L293.8,402.0 L295.7,402.6 L297.5,403.3 L299.3,404.0 L301.1,404.8 L302.9,405.6 L304.7,406.4 L306.5,407.2 L308.3,408.1 L310.0,409.0 L311.8,409.9 L313.5,410.9 L315.2,411.8 L316.9,412.8 L318.6,413.9 L321.5,413.2"/>
<path class="curve g" stroke-dashoffset="-2" d="M321.5,413.2 L330.0,418.3 L332.0,424.9 L336.0,426.6 L338.6,425.0 L340.6,430.2 L342.6,432.2 L344.0,433.6 L345.5,435.0 L347.0,436.4 L348.4,437.8 L349.9,439.2 L351.3,440.7 L352.7,442.2 L354.1,443.6 L355.4,445.1 L356.8,446.6 L358.1,448.1 L359.5,449.6 L360.8,451.2 L362.1,452.7 L363.3,454.2 L364.6,455.8 L365.9,457.3 L367.1,458.9 L368.3,460.4 L369.5,462.0 L370.7,463.6 L371.9,465.2 L373.1,466.8 L374.2,468.4 L375.4,470.0 L376.5,471.6 L377.6,473.2 L378.7,474.8 L379.8,476.4 L380.9,478.1 L382.0,479.7 L383.1,481.3 L384.1,483.0 L385.2,484.6 L386.2,486.3 L387.3,488.0 L388.3,489.6 L389.3,491.3 L390.3,493.0 L391.4,494.7 L392.4,496.4 L393.4,498.1 L394.4,499.8 L395.4,501.5 L396.4,503.2 L397.4,504.9 L398.3,506.6 L399.3,508.4 L400.3,510.1 L401.3,511.8 L402.3,513.6 L403.2,515.3 L404.2,517.1 L405.2,518.8 L406.2,520.6 L407.1,522.4 L408.1,524.1 L409.0,525.9 L410.0,527.7 L410.9,529.5 L411.9,531.2 L412.8,533.0 L413.7,534.8 L414.7,536.6 L415.6,538.4 L416.5,540.3 L417.4,542.1 L418.3,543.9 L419.2,545.7 L420.1,547.5 L420.9,549.4 L421.8,551.2 L422.7,553.0 L423.5,554.9 L424.4,556.7 L425.2,558.6 L426.0,560.4 L426.8,562.3 L427.6,564.1 L428.4,566.0 L429.2,567.8 L429.9,569.7 L430.7,571.6 L431.4,573.4 L432.2,575.3 L432.9,577.2 L433.6,579.1 L434.3,581.0 L435.0,582.9 L435.7,584.8 L436.4,586.7 L437.0,588.5 L437.7,590.4 L438.3,592.4 L439.0,594.3 L439.6,596.2 L440.2,598.1 L440.8,600.0 L441.4,601.9 L442.0,603.8 L442.6,605.7 L443.2,607.7 L443.8,609.6 L444.3,611.5 L444.9,613.4 L445.4,615.4 L446.0,617.3 L446.5,619.2 L447.0,621.2 L447.5,623.1 L448.0,625.1 L448.5,627.0 L449.0,629.0 L449.5,630.9 L450.0,632.9 L450.5,634.8 L450.9,636.8 L451.4,638.7 L451.9,640.7 L452.3,642.6 L452.7,644.6 L453.2,646.5 L453.6,648.5 L454.0,650.5 L454.5,652.4 L454.9,654.4 L455.3,656.3 L455.7,658.3 L456.1,660.3 L456.5,662.2 L456.9,664.2 L457.2,666.2 L457.6,668.1 L458.0,670.1 L458.4,672.1 L458.7,674.1 L459.1,676.0 L459.4,678.0 L459.8,680.0 L460.1,682.0 L460.5,683.9 L460.8,685.9 L461.2,687.9 L461.5,689.9 L461.8,691.8 L462.2,693.8 L462.5,695.8 L462.8,697.8 L463.1,699.7 L463.4,701.7 L463.8,703.7 L464.1,705.7 L464.4,707.6 L464.7,709.6 L465.0,711.6 L465.3,713.6 L465.6,715.6 L465.8,717.5 L466.1,719.5 L466.4,721.5 L466.7,723.5 L467.0,725.5 L467.2,727.4 L467.5,729.4 L467.8,731.4 L468.0,733.4 L468.3,735.4 L468.6,737.3 L468.8,739.3 L469.1,741.3 L469.3,743.3 L469.6,745.3 L469.8,747.3 L470.0,749.2 L470.3,751.2 L470.5,753.2 L470.7,755.2 L471.0,757.2 L471.2,759.2 L471.4,761.1 L471.7,763.1 L471.9,765.1 L472.1,767.1 L472.3,769.1 L472.5,771.1 L472.7,773.0 L472.9,775.0 L473.1,777.0 L473.3,779.0 L473.5,781.0 L473.7,783.0 L473.9,785.0 L474.1,787.0 L474.3,788.9 L474.5,790.9 L474.7,792.9 L474.8,794.9 L475.0,796.9 L475.2,798.9 L475.4,800.9 L475.5,802.9 L475.7,804.9 L475.9,806.8 L476.0,808.8 L476.2,810.8 L476.4,812.8 L476.5,814.8 L476.7,816.8 L476.8,818.8 L477.0,820.8 L477.1,822.8 L477.3,824.8 L477.4,826.7 L477.6,828.7 L477.7,830.7 L477.9,832.7 L478.0,834.7 L478.1,836.7 L478.3,838.7 L478.4,840.7 L478.5,842.7 L478.6,844.7 L478.8,846.7 L478.9,848.7 L479.0,850.7 L479.1,852.7 L479.3,854.6 L479.4,856.6 L479.5,858.6 L479.6,860.6 L479.7,862.6 L479.8,864.6 L479.9,866.6 L480.0,868.6 L480.1,870.6 L480.3,872.6 L480.4,874.6 L480.5,876.6 L480.6,878.6 L480.6,880.6 L480.7,882.6 L480.8,884.6 L480.9,886.6 L481.0,888.6 L481.1,890.6 L481.2,892.6 L481.3,894.6 L481.4,896.6 L481.5,898.6 L481.5,900.6 L481.6,902.6 L481.7,904.6 L481.8,906.5 L481.9,908.5 L481.9,910.5 L482.0,912.5 L482.1,914.5 L482.2,916.5 L482.2,918.5 L482.3,920.5 L482.4,922.5 L482.4,924.5 L482.5,926.5 L482.6,928.5 L482.6,930.5 L482.7,932.5 L482.8,934.5 L482.8,936.5 L482.9,938.5 L483.0,940.5 L483.0,942.5 L483.1,944.5 L483.1,946.5 L483.2,948.5 L483.2,950.5 L483.3,952.5 L483.3,954.5 L483.4,956.5 L483.5,958.5 L483.5,960.5 L483.6,962.6 L483.6,964.6 L483.7,966.6 L483.7,968.6 L483.8,970.6 L483.8,972.6 L483.9,974.6 L483.9,976.6 L484.0,978.6 L484.0,980.6 L484.0,982.6 L484.1,984.6 L484.1,986.6 L484.2,988.6 L484.2,990.6 L484.3,992.6 L484.3,994.6 L484.3,996.6 L484.4,998.6 L484.4,1000.6 L484.5,1002.6 L484.5,1004.6 L484.6,1006.6 L484.6,1008.6 L484.6,1010.6 L484.7,1012.6 L484.7,1014.6 L484.8,1016.6 L484.8,1018.6 L484.8,1020.6 L484.9,1022.6 L484.9,1024.6 L485.0,1026.6 L485.0,1028.7 L485.0,1030.7 L485.1,1032.7 L485.1,1034.7 L485.1,1036.7 L485.2,1038.7 L485.2,1040.7 L485.3,1042.7 L485.3,1044.7 L485.3,1046.7 L485.4,1048.7 L485.4,1050.7 L485.4,1052.7 L485.5,1054.7 L485.5,1056.7 L485.6,1058.7 L485.6,1060.7 L485.6,1062.7 L485.7,1064.7 L485.7,1066.7 L485.7,1068.8 L485.8,1070.8 L485.8,1072.8 L485.8,1074.8 L485.9,1076.8 L485.9,1078.8 L485.9,1080.8 L486.0,1082.8 L486.0,1084.8 L486.0,1086.8 L486.1,1088.8 L486.1,1090.8 L486.1,1092.8 L486.2,1094.8 L486.2,1096.8 L486.2,1098.8 L486.3,1100.8 L486.3,1102.9 L486.3,1104.9 L486.4,1106.9 L486.4,1108.9 L486.4,1110.9 L486.5,1112.9 L486.5,1114.9 L486.5,1116.9 L486.6,1118.9 L486.6,1120.9 L486.6,1122.9 L486.6,1124.9 L486.7,1126.9 L486.7,1128.9 L486.7,1130.9 L486.8,1132.9 L486.8,1134.9 L486.8,1137.0 L486.9,1139.0 L486.9,1141.0 L486.9,1143.0 L486.9,1145.0 L487.0,1147.0 L487.0,1149.0 L487.0,1151.0 L487.1,1153.0 L487.1,1155.0 L487.1,1157.0 L487.1,1159.0 L487.2,1161.0 L487.2,1163.0 L487.2,1165.0 L487.2,1167.0 L487.3,1169.0 L487.3,1171.1 L487.3,1173.1 L487.3,1175.1 L487.4,1177.1 L487.4,1179.1 L487.4,1181.1 L487.4,1183.1 L487.5,1185.1 L487.5,1187.1 L487.5,1189.1 L487.5,1191.1 L487.6,1193.1 L487.6,1195.1 L487.6,1197.1 L487.6,1199.1 L487.7,1201.1 L487.7,1203.1 L487.7,1205.1 L487.7,1207.1 L487.7,1209.2 L487.8,1211.2 L487.8,1213.2 L487.8,1215.2 L487.8,1217.2 L487.8,1219.2 L487.9,1221.2 L487.9,1223.2 L487.9,1225.2 L487.9,1227.2 L487.9,1229.2 L488.0,1231.2 L488.0,1233.2 L488.0,1235.2 L488.0,1237.2 L488.0,1239.2 L488.1,1241.2 L488.1,1243.2 L488.1,1245.2 L488.1,1247.2 L488.1,1249.2 L488.1,1251.2 L488.2,1253.2 L488.2,1255.2 L488.2,1257.3 L488.2,1259.3 L488.2,1261.3 L488.2,1263.3 L488.3,1265.3 L488.3,1267.3 L488.3,1269.3 L488.3,1271.3 L488.3,1273.3 L488.3,1275.3 L488.4,1277.3 L488.4,1279.3 L488.4,1281.3 L488.4,1283.3 L488.4,1285.3 L488.4,1287.3 L488.4,1289.3 L488.4,1291.3 L488.5,1293.3 L488.5,1295.3 L488.5,1297.3 L488.5,1299.3 L488.5,1301.3 L488.5,1303.3 L488.5,1305.3 L488.5,1307.3 L488.6,1309.3 L488.6,1311.3 L488.6,1313.3 L488.6,1315.3 L488.6,1317.3 L488.6,1319.3 L488.6,1321.3 L488.6,1323.3 L488.6,1325.3 L488.6,1327.3 L488.7,1329.3 L488.7,1331.3 L488.7,1333.3 L488.7,1335.3 L488.7,1337.3 L488.7,1339.3 L488.7,1341.3 L488.7,1343.3 L488.7,1345.3 L488.7,1347.3 L488.7,1349.3 L488.7,1351.3 L488.7,1353.3 L488.7,1355.3 L488.7,1357.3 L488.8,1359.3 L488.8,1361.3 L488.8,1363.3 L488.8,1365.3 L488.8,1367.3 L488.8,1369.3 L488.8,1371.3 L488.8,1373.3 L488.8,1375.3 L488.8,1377.3 L488.8,1379.2 L488.8,1381.2 L488.8,1383.2 L488.8,1385.2 L488.8,1387.2 L488.8,1389.2 L488.8,1391.2 L488.8,1393.2 L488.8,1395.2 L488.8,1397.2 L488.8,1399.2 L488.8,1397.2 L488.9,1395.2 L488.9,1393.2 L488.9,1391.1 L488.9,1389.1 L489.0,1387.1 L489.0,1385.1 L489.0,1383.1 L489.0,1381.1 L489.1,1379.1 L489.1,1377.1 L489.1,1375.0 L489.1,1373.0 L489.2,1371.0 L489.2,1369.0 L489.2,1367.0 L489.2,1365.0 L489.2,1363.0 L489.3,1361.0 L489.3,1359.0 L489.3,1356.9 L489.3,1354.9 L489.3,1352.9 L489.3,1350.9 L489.4,1348.9 L489.4,1346.9 L489.4,1344.9 L489.4,1342.9 L489.4,1340.9 L489.4,1338.9 L489.4,1336.9 L489.5,1334.9 L489.5,1332.9 L489.5,1330.9 L489.5,1328.8 L489.5,1326.8 L489.5,1324.8 L489.5,1322.8 L489.5,1320.8 L489.6,1318.8 L489.6,1316.8 L489.6,1314.8 L489.6,1312.8 L489.6,1310.8 L489.6,1308.8 L489.6,1306.8 L489.6,1304.8 L489.6,1302.8 L489.6,1300.8 L489.6,1298.8 L489.7,1296.8 L489.7,1294.8 L489.7,1292.8 L489.7,1290.8 L489.7,1288.8 L489.7,1286.8 L489.7,1284.8 L489.7,1282.8 L489.7,1280.8 L489.7,1278.8 L489.7,1276.8 L489.7,1274.8 L489.7,1272.8 L489.7,1270.8 L489.7,1268.8 L489.7,1266.8 L489.7,1264.8 L489.7,1262.8 L489.8,1260.8 L489.8,1258.8 L489.8,1256.8 L489.8,1254.8 L489.8,1252.8 L489.8,1250.8 L489.8,1248.8 L489.8,1246.8 L489.8,1244.8 L489.8,1242.8 L489.8,1240.8 L489.8,1238.8 L489.8,1236.8 L489.8,1234.8 L489.8,1232.8 L489.8,1230.8 L489.8,1228.8 L489.8,1226.8 L489.8,1224.8 L489.8,1222.8 L489.8,1220.8 L489.8,1218.8 L489.8,1216.8 L489.8,1214.8 L489.8,1212.8 L489.8,1210.8 L489.8,1208.8 L489.8,1206.8 L489.8,1204.8 L489.8,1202.8 L489.9,1200.8 L489.9,1198.9 L489.9,1196.9 L489.9,1194.9 L489.9,1192.9 L489.9,1190.9 L489.9,1188.9 L489.9,1186.9 L489.9,1184.9 L489.9,1182.9 L489.9,1180.9 L489.9,1178.9 L489.9,1176.9 L489.9,1174.9 L489.9,1172.9 L489.9,1170.9 L489.9,1168.9 L489.9,1166.9 L489.9,1164.9 L489.9,1163.0 L489.9,1161.0 L490.0,1159.0 L490.0,1157.0 L490.0,1155.0 L490.0,1153.0 L490.0,1151.0 L490.0,1149.0 L490.0,1147.0 L490.0,1145.0 L490.0,1143.0 L490.0,1141.0 L490.0,1139.0 L490.0,1137.0 L490.1,1135.0 L490.1,1133.1 L490.1,1131.1 L490.1,1129.1 L490.1,1127.1 L490.1,1125.1 L490.1,1123.1 L490.1,1121.1 L490.2,1119.1 L490.2,1117.1 L490.2,1115.1 L490.2,1113.1 L490.2,1111.1 L490.2,1109.1 L490.2,1107.2 L490.3,1105.2 L490.3,1103.2 L490.3,1101.2 L490.3,1099.2 L490.3,1097.2 L490.3,1095.2 L490.4,1093.2 L490.4,1091.2 L490.4,1089.2 L490.4,1087.2 L490.4,1085.2 L490.5,1083.2 L490.5,1081.3 L490.5,1079.3 L490.5,1077.3 L490.5,1075.3 L490.6,1073.3 L490.6,1071.3 L490.6,1069.3 L490.6,1067.3 L490.7,1065.3 L490.7,1063.3 L490.7,1061.3 L490.7,1059.3 L490.8,1057.4 L490.8,1055.4 L490.8,1053.4 L490.9,1051.4 L490.9,1049.4 L490.9,1047.4 L491.0,1045.4 L491.0,1043.4 L491.0,1041.4 L491.1,1039.4 L491.1,1037.4 L491.1,1035.4 L491.2,1033.4 L491.2,1031.4 L491.2,1029.5 L491.3,1027.5 L491.3,1025.5 L491.3,1023.5 L491.4,1021.5 L491.4,1019.5 L491.5,1017.5 L491.5,1015.5 L491.6,1013.5 L491.6,1011.5 L491.6,1009.5 L491.7,1007.5 L491.7,1005.5 L491.8,1003.5 L491.8,1001.6 L491.9,999.6 L491.9,997.6 L492.0,995.6 L492.0,993.6 L492.1,991.6 L492.1,989.6 L492.2,987.6 L492.2,985.6 L492.3,983.6 L492.3,981.6 L492.4,979.6 L492.5,977.6 L492.5,975.6 L492.6,973.6 L492.6,971.6 L492.7,969.6 L492.8,967.6 L492.8,965.7 L492.9,963.7 L492.9,961.7 L493.0,959.7 L493.1,957.7 L493.1,955.7 L493.2,953.7 L493.3,951.7 L493.3,949.7 L493.4,947.7 L493.5,945.7 L493.6,943.7 L493.6,941.7 L493.7,939.7 L493.8,937.7 L493.9,935.7 L493.9,933.7 L494.0,931.7 L494.1,929.7 L494.2,927.7 L494.3,925.7 L494.4,923.7 L494.4,921.7 L494.5,919.7 L494.6,917.7 L494.7,915.7 L494.8,913.7 L494.9,911.7 L495.0,909.7 L495.1,907.7 L495.2,905.7 L495.2,903.7 L495.3,901.7 L495.4,899.7 L495.5,897.7 L495.6,895.7 L495.7,893.7 L495.8,891.7 L495.9,889.7 L496.0,887.7 L496.1,885.7 L496.3,883.7 L496.4,881.7 L496.5,879.7 L496.6,877.7 L496.7,875.7 L496.8,873.7 L496.9,871.7 L497.0,869.7 L497.1,867.7 L497.3,865.7 L497.4,863.7 L497.5,861.7 L497.6,859.7 L497.7,857.7 L497.9,855.7 L498.0,853.7 L498.1,851.7 L498.3,849.7 L498.4,847.7 L498.5,845.7 L498.6,843.7 L498.8,841.7 L498.9,839.7 L499.0,837.7 L499.2,835.6 L499.3,833.6 L499.5,831.6 L499.6,829.6 L499.7,827.6 L499.9,825.6 L500.0,823.6 L500.2,821.6 L500.3,819.6 L500.5,817.6 L500.6,815.6 L500.8,813.6 L500.9,811.6 L501.1,809.6 L501.2,807.5 L501.4,805.5 L501.6,803.5 L501.7,801.5 L501.9,799.5 L502.1,797.5 L502.2,795.5 L502.4,793.5 L502.6,791.5 L502.7,789.4 L502.9,787.4 L503.1,785.4 L503.3,783.4 L503.4,781.4 L503.6,779.4 L503.8,777.4 L504.0,775.4 L504.2,773.3 L504.3,771.3 L504.5,769.3 L504.7,767.3 L504.9,765.3 L505.1,763.3 L505.3,761.3 L505.5,759.3 L505.7,757.2 L505.9,755.2 L506.1,753.2 L506.3,751.2 L506.6,749.2 L506.8,747.2 L507.0,745.2 L507.2,743.2 L507.4,741.2 L507.7,739.2 L507.9,737.1 L508.1,735.1 L508.4,733.1 L508.6,731.1 L508.9,729.1 L509.1,727.1 L509.4,725.1 L509.7,723.1 L509.9,721.1 L510.2,719.1 L510.5,717.1 L510.7,715.1 L511.0,713.1 L511.3,711.1 L511.6,709.2 L511.9,707.2 L512.2,705.2 L512.5,703.2 L512.8,701.2 L513.2,699.2 L513.5,697.2 L513.8,695.3 L514.1,693.3 L514.5,691.3 L514.8,689.3 L515.2,687.3 L515.5,685.4 L515.9,683.4 L516.3,681.4 L516.6,679.5 L517.0,677.5 L517.4,675.5 L517.8,673.6 L518.2,671.6 L518.6,669.7 L519.0,667.7 L519.5,665.8 L519.9,663.8 L520.3,661.9 L520.8,659.9 L521.2,658.0 L521.7,656.0 L522.1,654.1 L522.6,652.2 L523.1,650.2 L523.6,648.3 L524.0,646.4 L524.5,644.4 L525.0,642.5 L525.6,640.6 L526.1,638.7 L526.6,636.8 L527.2,634.9 L527.7,633.0 L528.3,631.1 L528.8,629.2 L529.4,627.3 L530.0,625.4 L530.6,623.5 L531.2,621.6 L531.8,619.7 L532.4,617.8 L533.0,615.9 L533.6,614.1 L534.3,612.2 L534.9,610.3 L535.6,608.5 L536.3,606.6 L536.9,604.8 L537.6,602.9 L538.3,601.1 L539.0,599.2 L539.8,597.4 L540.5,595.5 L541.2,593.7 L542.0,591.9 L542.7,590.0 L543.5,588.2 L544.3,586.4 L545.1,584.6 L545.9,582.8 L546.7,581.0 L547.5,579.2 L548.3,577.4 L549.2,575.6 L550.0,573.8 L550.9,572.0 L551.8,570.3 L552.7,568.5 L553.6,566.7 L554.5,564.9 L555.4,563.2 L556.3,561.4 L557.3,559.7 L558.2,557.9 L559.2,556.2 L560.2,554.5 L561.2,552.7 L562.2,551.0 L563.2,549.3 L564.2,547.6 L565.2,545.9 L566.3,544.2 L567.4,542.5 L568.4,540.8 L569.5,539.1 L570.6,537.4 L571.8,535.7 L572.9,534.1 L574.0,532.4 L575.2,530.7 L576.3,529.1 L577.5,527.5 L578.7,525.8 L579.9,524.2 L581.1,522.6 L582.4,521.0 L583.6,519.4 L584.9,517.9 L586.1,516.3 L587.4,514.8 L588.7,513.2 L590.0,511.7 L591.4,510.2 L592.7,508.7 L594.1,507.2 L595.4,505.8 L596.8,504.3 L598.2,502.9 L599.6,501.5 L601.0,500.0 L602.5,498.7 L603.9,497.3 L605.4,495.9 L606.8,494.6 L608.3,493.3 L609.8,492.0 L611.3,490.7 L612.9,489.4 L614.4,488.2 L616.0,487.0 L617.6,485.8 L619.2,484.6 L620.8,483.4 L622.4,482.3 L624.0,481.2 L625.7,480.1 L627.3,479.0 L629.0,478.0 L630.7,476.9 L632.4,475.9 L634.1,474.9 L635.8,474.0 L637.6,473.1 L639.4,472.2 L641.1,471.3 L642.9,470.4 L644.7,469.6 L646.6,468.8 L648.4,468.1 L650.2,467.3 L652.1,466.6 L654.0,465.9 L655.9,465.3 L657.8,464.6 L659.7,464.0 L661.6,463.5 L663.5,462.9 L665.5,462.4 L667.4,462.0 L669.3,461.5 L671.3,461.1 L673.3,460.7 L675.2,460.4 L677.2,460.1 L679.2,459.8 L681.2,459.6 L683.2,459.4 L685.2,459.2 L687.2,459.1 L689.2,459.0"/>
<path class="curve g" stroke-dashoffset="48.7" d="M689.2,459.0 L691.2,458.9 L693.2,458.9 L695.2,458.9 L697.2,458.9 L699.2,459.0 L701.2,459.1 L703.1,459.2 L705.1,459.4 L707.1,459.6 L709.1,459.9 L711.1,460.1 L713.1,460.4 L715.1,460.8 L717.1,461.2 L719.0,461.6 L721.0,462.0 L723.0,462.4 L724.9,462.9 L726.9,463.5 L728.8,464.0 L730.7,464.6 L732.7,465.2 L734.6,465.8 L736.5,466.5 L738.4,467.2 L740.3,467.9 L742.2,468.6 L744.0,469.4 L745.9,470.2 L747.7,471.0 L749.6,471.9 L751.4,472.8 L753.2,473.6 L755.0,474.6 L756.8,475.5 L758.5,476.5 L760.3,477.5 L762.0,478.5 L763.7,479.5 L765.4,480.6 L767.1,481.7 L768.8,482.8 L770.4,483.9 L772.1,485.0 L773.7,486.2 L775.3,487.4 L776.9,488.6 L778.5,489.8 L780.0,491.0 L781.6,492.3 L783.1,493.6 L784.6,494.9 L786.1,496.2 L787.6,497.5 L789.1,498.9 L790.5,500.2 L792.0,501.6 L793.4,503.0 L794.8,504.4 L796.2,505.8 L797.6,507.3 L799.0,508.7 L800.3,510.2 L801.7,511.7 L803.0,513.1 L804.3,514.7 L805.6,516.2 L806.9,517.7 L808.2,519.2 L809.5,520.8 L810.7,522.4 L812.0,523.9 L813.2,525.5 L814.4,527.1 L815.6,528.7 L816.8,530.3 L817.9,531.9 L819.1,533.6 L820.3,535.2 L821.4,536.9 L822.5,538.5 L823.6,540.2 L824.7,541.8 L825.8,543.5 L826.9,545.2 L828.0,546.9 L829.0,548.6 L830.0,550.3 L831.1,552.0 L832.1,553.7 L833.1,555.4 L834.1,557.1 L835.1,558.8 L836.0,560.6 L837.0,562.3 L838.0,564.1 L838.9,565.8 L839.8,567.6 L840.7,569.3 L841.6,571.1 L842.5,572.8 L843.4,574.6 L844.3,576.4 L845.2,578.2 L846.0,580.0 L846.9,581.8 L847.7,583.6 L848.5,585.4 L849.3,587.2 L850.1,589.0 L850.9,590.8 L851.7,592.6 L852.5,594.5 L853.3,596.3 L854.0,598.1 L854.8,600.0 L855.5,601.8 L856.2,603.7 L856.9,605.5 L857.7,607.4 L858.4,609.2 L859.0,611.1 L859.7,613.0 L860.4,614.8 L861.1,616.7 L861.7,618.6 L862.4,620.5 L863.0,622.4 L863.6,624.2 L864.3,626.1 L864.9,628.0 L865.5,629.9 L866.1,631.8 L866.7,633.8 L867.3,635.7 L867.8,637.6 L868.4,639.5 L869.0,641.4 L869.5,643.3 L870.1,645.3 L870.6,647.2 L871.2,649.1 L871.7,651.1 L872.2,653.0 L872.7,654.9 L873.2,656.9 L873.7,658.8 L874.2,660.8 L874.7,662.7 L875.2,664.7 L875.6,666.6 L876.1,668.6 L876.5,670.5 L877.0,672.5 L877.4,674.5 L877.9,676.4 L878.3,678.4 L878.7,680.4 L879.2,682.3 L879.6,684.3 L880.0,686.3 L880.4,688.2 L880.8,690.2 L881.2,692.2 L881.6,694.2 L882.0,696.2 L882.3,698.1 L882.7,700.1 L883.1,702.1 L883.4,704.1 L883.8,706.1 L884.2,708.1 L884.5,710.1 L884.9,712.1 L885.2,714.1 L885.5,716.0 L885.9,718.0 L886.2,720.0 L886.5,722.0 L886.8,724.0 L887.1,726.0 L887.5,728.0 L887.8,730.0 L888.1,732.0 L888.4,734.0 L888.7,736.0 L889.0,738.0 L889.2,740.0 L889.5,742.0 L889.8,744.0 L890.1,746.0 L890.4,748.0 L890.6,750.0 L890.9,752.0 L891.2,754.0 L891.4,756.0 L891.7,758.0 L892.0,760.0 L892.2,762.0 L892.5,764.0 L892.7,766.0 L893.0,768.0 L893.2,770.0 L893.5,772.0 L893.7,773.9 L893.9,775.9 L894.2,777.9 L894.4,779.9 L894.6,781.9 L894.9,783.9 L895.1,785.9 L895.3,787.9 L895.5,789.9 L895.7,791.9 L895.9,793.9 L896.2,795.9 L896.4,797.9 L896.6,799.9 L896.8,801.9 L897.0,803.9 L897.2,805.9 L897.4,807.9 L897.6,809.8 L897.8,811.8 L897.9,813.8 L898.1,815.8 L898.3,817.8 L898.5,819.8 L898.7,821.8 L898.8,823.8 L899.0,825.8 L899.2,827.8 L899.4,829.8 L899.5,831.8 L899.7,833.8 L899.9,835.7 L900.0,837.7 L900.2,839.7 L900.3,841.7 L900.5,843.7 L900.6,845.7 L900.8,847.7 L900.9,849.7 L901.1,851.7 L901.2,853.7 L901.4,855.7 L901.5,857.7 L901.7,859.6 L901.8,861.6 L901.9,863.6 L902.1,865.6 L902.2,867.6 L902.3,869.6 L902.5,871.6 L902.6,873.6 L902.7,875.6 L902.8,877.6 L902.9,879.6 L903.1,881.5 L903.2,883.5 L903.3,885.5 L903.4,887.5 L903.5,889.5 L903.6,891.5 L903.7,893.5 L903.9,895.5 L904.0,897.5 L904.1,899.5 L904.2,901.4 L904.3,903.4 L904.4,905.4 L904.5,907.4 L904.6,909.4 L904.7,911.4 L904.7,913.4 L904.8,915.4 L904.9,917.4 L905.0,919.4 L905.1,921.4 L905.2,923.3 L905.3,925.3 L905.4,927.3 L905.4,929.3 L905.5,931.3 L905.6,933.3 L905.7,935.3 L905.8,937.3 L905.8,939.3 L905.9,941.3 L906.0,943.2 L906.1,945.2 L906.1,947.2 L906.2,949.2 L906.3,951.2 L906.3,953.2 L906.4,955.2 L906.5,957.2 L906.5,959.2 L906.6,961.2 L906.7,963.2 L906.7,965.1 L906.8,967.1 L906.9,969.1 L906.9,971.1 L907.0,973.1 L907.0,975.1 L907.1,977.1 L907.1,979.1 L907.2,981.1 L907.3,983.1 L907.3,985.1 L907.4,987.0 L907.4,989.0 L907.5,991.0 L907.5,993.0 L907.6,995.0 L907.6,997.0 L907.7,999.0 L907.7,1001.0 L907.8,1003.0 L907.8,1005.0 L907.9,1007.0 L907.9,1009.0 L907.9,1010.9 L908.0,1012.9 L908.0,1014.9 L908.1,1016.9 L908.1,1018.9 L908.2,1020.9 L908.2,1022.9 L908.3,1024.9 L908.3,1026.9 L908.3,1028.9 L908.4,1030.9 L908.4,1032.9 L908.5,1034.9 L908.5,1036.9 L908.5,1038.9 L908.6,1040.9 L908.6,1042.8 L908.7,1044.8 L908.7,1046.8 L908.7,1048.8 L908.8,1050.8 L908.8,1052.8 L908.8,1054.8 L908.9,1056.8 L908.9,1058.8 L909.0,1060.8 L909.0,1062.8 L909.0,1064.8 L909.1,1066.8 L909.1,1068.8 L909.2,1070.8 L909.2,1072.8 L909.2,1074.8 L909.3,1076.8 L909.3,1078.8 L909.3,1080.8 L909.4,1082.8 L909.4,1084.8 L909.5,1086.8 L909.5,1088.8 L909.5,1090.8 L909.6,1092.8 L909.6,1094.8 L909.7,1096.8 L909.7,1098.8 L909.7,1100.8 L909.8,1102.8 L909.8,1104.8 L909.9,1106.8 L909.9,1108.8 L909.9,1110.8 L910.0,1112.8 L910.0,1114.8 L910.1,1116.8 L910.1,1118.8 L910.2,1120.8 L910.2,1122.8 L910.3,1124.8 L910.3,1126.8 L910.3,1128.8 L910.4,1130.8 L910.4,1132.8 L910.5,1134.8 L910.5,1136.8 L910.6,1138.8 L910.6,1140.8 L910.7,1142.8 L910.7,1144.8 L910.8,1146.8 L910.8,1148.8 L910.9,1150.8 L911.0,1152.8 L911.0,1154.8 L911.1,1156.8 L911.1,1158.8 L911.2,1160.8 L911.2,1162.8 L911.3,1164.9 L911.4,1166.9 L911.4,1168.9 L911.5,1170.9 L911.6,1172.9 L911.6,1174.9 L911.7,1176.9 L911.8,1178.9 L911.8,1180.9 L911.9,1182.9 L912.0,1184.9 L912.0,1186.9 L912.1,1189.0 L912.2,1191.0 L912.2,1193.0 L912.3,1195.0 L912.4,1197.0 L912.4,1195.0 L912.5,1193.0 L912.5,1191.0 L912.5,1189.0 L912.6,1186.9 L912.6,1184.9 L912.6,1182.9 L912.7,1180.9 L912.7,1178.9 L912.7,1176.9 L912.8,1174.9 L912.8,1172.9 L912.8,1170.9 L912.9,1168.9 L912.9,1166.9 L912.9,1164.8 L913.0,1162.8 L913.0,1160.8 L913.0,1158.8 L913.1,1156.8 L913.1,1154.8 L913.1,1152.8 L913.1,1150.8 L913.2,1148.8 L913.2,1146.8 L913.2,1144.8 L913.3,1142.8 L913.3,1140.8 L913.3,1138.8 L913.3,1136.8 L913.4,1134.8 L913.4,1132.8 L913.4,1130.8 L913.5,1128.8 L913.5,1126.8 L913.5,1124.8 L913.5,1122.8 L913.6,1120.8 L913.6,1118.8 L913.6,1116.7 L913.7,1114.7 L913.7,1112.7 L913.7,1110.7 L913.7,1108.7 L913.8,1106.7 L913.8,1104.7 L913.8,1102.7 L913.9,1100.7 L913.9,1098.7 L913.9,1096.7 L914.0,1094.7 L914.0,1092.8 L914.0,1090.8 L914.0,1088.8 L914.1,1086.8 L914.1,1084.8 L914.1,1082.8 L914.2,1080.8 L914.2,1078.8 L914.2,1076.8 L914.3,1074.8 L914.3,1072.8 L914.3,1070.8 L914.4,1068.8 L914.4,1066.8 L914.4,1064.8 L914.5,1062.8 L914.5,1060.8 L914.5,1058.8 L914.6,1056.8 L914.6,1054.8 L914.7,1052.8 L914.7,1050.8 L914.7,1048.8 L914.8,1046.8 L914.8,1044.8 L914.8,1042.8 L914.9,1040.8 L914.9,1038.8 L915.0,1036.8 L915.0,1034.9 L915.0,1032.9 L915.1,1030.9 L915.1,1028.9 L915.2,1026.9 L915.2,1024.9 L915.3,1022.9 L915.3,1020.9 L915.4,1018.9 L915.4,1016.9 L915.5,1014.9 L915.5,1012.9 L915.6,1010.9 L915.6,1008.9 L915.7,1006.9 L915.7,1005.0 L915.8,1003.0 L915.8,1001.0 L915.9,999.0 L915.9,997.0 L916.0,995.0 L916.0,993.0 L916.1,991.0 L916.1,989.0 L916.2,987.0 L916.3,985.0 L916.3,983.0 L916.4,981.0 L916.4,979.0 L916.5,977.1 L916.6,975.1 L916.6,973.1 L916.7,971.1 L916.8,969.1 L916.8,967.1 L916.9,965.1 L917.0,963.1 L917.0,961.1 L917.1,959.1 L917.2,957.1 L917.3,955.1 L917.3,953.2 L917.4,951.2 L917.5,949.2 L917.6,947.2 L917.7,945.2 L917.7,943.2 L917.8,941.2 L917.9,939.2 L918.0,937.2 L918.1,935.2 L918.1,933.2 L918.2,931.2 L918.3,929.2 L918.4,927.3 L918.5,925.3 L918.6,923.3 L918.7,921.3 L918.8,919.3 L918.9,917.3 L919.0,915.3 L919.1,913.3 L919.2,911.3 L919.3,909.3 L919.4,907.3 L919.5,905.3 L919.6,903.3 L919.7,901.4 L919.8,899.4 L919.9,897.4 L920.0,895.4 L920.1,893.4 L920.2,891.4 L920.4,889.4 L920.5,887.4 L920.6,885.4 L920.7,883.4 L920.8,881.4 L921.0,879.4 L921.1,877.4 L921.2,875.4 L921.3,873.5 L921.5,871.5 L921.6,869.5 L921.7,867.5 L921.9,865.5 L922.0,863.5 L922.1,861.5 L922.3,859.5 L922.4,857.5 L922.6,855.5 L922.7,853.5 L922.8,851.5 L923.0,849.5 L923.1,847.5 L923.3,845.5 L923.4,843.5 L923.6,841.5 L923.7,839.5 L923.9,837.5 L924.1,835.6 L924.2,833.6 L924.4,831.6 L924.5,829.6 L924.7,827.6 L924.9,825.6 L925.0,823.6 L925.2,821.6 L925.4,819.6 L925.6,817.6 L925.7,815.6 L925.9,813.6 L926.1,811.6 L926.3,809.6 L926.5,807.6 L926.7,805.6 L926.8,803.6 L927.0,801.6 L927.2,799.6 L927.4,797.6 L927.6,795.6 L927.8,793.6 L928.0,791.6 L928.2,789.6 L928.4,787.6 L928.6,785.6 L928.8,783.6 L929.1,781.6 L929.3,779.6 L929.5,777.6 L929.7,775.6 L929.9,773.6 L930.1,771.6 L930.4,769.6 L930.6,767.6 L930.8,765.6 L931.1,763.6 L931.3,761.6 L931.5,759.6 L931.8,757.6 L932.0,755.6 L932.2,753.6 L932.5,751.6 L932.7,749.6 L933.0,747.6 L933.2,745.6 L933.5,743.6 L933.8,741.6 L934.0,739.6 L934.3,737.6 L934.6,735.6 L934.9,733.6 L935.1,731.6 L935.4,729.6 L935.7,727.6 L936.0,725.6 L936.3,723.6 L936.6,721.6 L936.9,719.6 L937.2,717.6 L937.5,715.6 L937.8,713.6 L938.2,711.6 L938.5,709.6 L938.8,707.7 L939.2,705.7 L939.5,703.7 L939.9,701.7 L940.2,699.7 L940.6,697.7 L940.9,695.8 L941.3,693.8 L941.7,691.8 L942.1,689.8 L942.5,687.9 L942.9,685.9 L943.3,683.9 L943.7,682.0 L944.1,680.0 L944.5,678.1 L944.9,676.1 L945.3,674.2 L945.8,672.2 L946.2,670.2 L946.7,668.3 L947.1,666.4 L947.6,664.4 L948.1,662.5 L948.6,660.5 L949.1,658.6 L949.5,656.7 L950.1,654.7 L950.6,652.8 L951.1,650.9 L951.6,649.0 L952.1,647.1 L952.7,645.1 L953.2,643.2 L953.8,641.3 L954.4,639.4 L954.9,637.5 L955.5,635.6 L956.1,633.7 L956.7,631.8 L957.3,629.9 L957.9,628.1 L958.6,626.2 L959.2,624.3 L959.8,622.4 L960.5,620.6 L961.2,618.7 L961.8,616.8 L962.5,615.0 L963.2,613.1 L963.9,611.3 L964.6,609.4 L965.3,607.6 L966.1,605.7 L966.8,603.9 L967.6,602.1 L968.3,600.3 L969.1,598.4 L969.9,596.6 L970.7,594.8 L971.5,593.0 L972.3,591.2 L973.1,589.4 L974.0,587.6 L974.8,585.8 L975.7,584.0 L976.5,582.3 L977.4,580.5 L978.3,578.7 L979.2,577.0 L980.1,575.2 L981.0,573.4 L982.0,571.7 L982.9,570.0 L983.9,568.2 L984.9,566.5 L985.9,564.8 L986.9,563.0 L987.9,561.3 L988.9,559.6 L989.9,557.9 L991.0,556.2 L992.0,554.5 L993.1,552.8 L994.2,551.2 L995.3,549.5 L996.4,547.8 L997.5,546.2 L998.7,544.5 L999.8,542.8 L1001.0,541.2 L1002.2,539.6 L1003.4,537.9 L1004.6,536.3 L1005.8,534.7 L1007.0,533.1 L1008.3,531.5 L1009.6,529.9 L1010.8,528.3 L1012.1,526.7 L1013.4,525.1 L1014.7,523.6 L1016.1,522.0 L1017.4,520.5 L1018.8,519.0 L1020.1,517.4 L1021.5,515.9 L1022.9,514.4 L1024.3,512.9 L1025.8,511.5 L1027.2,510.0 L1028.6,508.6 L1030.1,507.2 L1031.6,505.7 L1033.1,504.3 L1034.6,503.0 L1036.1,501.6 L1037.6,500.3 L1039.1,498.9 L1040.7,497.6 L1042.3,496.3 L1043.8,495.0 L1045.4,493.8 L1047.0,492.5 L1048.6,491.3 L1050.3,490.1 L1051.9,489.0 L1053.5,487.8 L1055.2,486.7 L1056.9,485.6 L1058.5,484.5 L1060.2,483.4 L1061.9,482.4 L1063.7,481.4 L1065.4,480.4 L1067.1,479.4 L1068.9,478.5 L1070.7,477.6 L1072.4,476.7 L1074.2,475.8 L1076.0,475.0 L1077.8,474.2 L1079.6,473.4 L1081.5,472.6 L1083.3,471.9 L1085.2,471.2 L1087.0,470.6 L1088.9,469.9 L1090.8,469.3 L1092.7,468.8 L1094.6,468.2 L1096.5,467.7 L1098.4,467.3 L1100.3,466.8 L1102.2,466.4 L1104.1,466.0 L1106.1,465.7 L1108.0,465.4 L1110.0,465.1 L1111.9,464.8 L1113.9,464.6 L1115.8,464.4 L1117.8,464.3 L1119.8,464.2 L1121.7,464.1 L1123.7,464.0 L1125.7,464.0 L1127.6,464.0 L1129.6,464.1 L1131.6,464.2 L1133.5,464.3 L1135.5,464.5 L1137.5,464.7 L1139.5,464.9 L1141.4,465.1 L1143.4,465.4 L1145.3,465.7 L1147.3,466.1 L1149.2,466.5 L1151.2,466.9 L1153.1,467.3 L1155.1,467.8 L1157.0,468.3 L1158.9,468.8 L1160.9,469.4 L1162.8,470.0 L1164.7,470.6 L1166.6,471.2 L1168.5,471.9 L1170.4,472.6 L1172.2,473.3 L1174.1,474.1 L1176.0,474.8 L1177.8,475.6 L1179.7,476.5 L1181.5,477.3 L1183.3,478.2 L1185.1,479.1 L1186.9,480.0 L1188.7,481.0 L1190.5,481.9 L1192.2,482.9 L1194.0,483.9 L1195.7,484.9 L1197.4,486.0 L1199.1,487.1 L1200.8,488.2 L1202.5,489.3 L1204.1,490.4 L1205.8,491.6 L1207.4,492.7 L1209.0,493.9 L1210.6,495.1 L1212.2,496.4 L1213.8,497.6 L1215.3,498.9 L1216.9,500.2 L1218.4,501.5 L1219.9,502.8 L1221.4,504.1 L1222.9,505.4 L1224.4,506.8 L1225.8,508.2 L1227.3,509.5 L1228.7,510.9 L1230.1,512.4 L1231.5,513.8 L1232.9,515.2 L1234.3,516.7 L1235.6,518.1 L1237.0,519.6 L1238.3,521.1 L1239.6,522.6 L1240.9,524.1 L1242.2,525.6 L1243.4,527.1 L1244.7,528.7 L1245.9,530.2 L1247.2,531.8 L1248.4,533.3 L1249.6,534.9 L1250.7,536.5 L1251.9,538.1 L1253.1,539.7 L1254.2,541.3 L1255.3,542.9 L1256.5,544.5 L1257.6,546.2 L1258.6,547.8 L1259.7,549.5 L1260.8,551.1 L1261.8,552.8 L1262.9,554.5 L1263.9,556.2 L1264.9,557.9 L1265.9,559.6 L1266.9,561.3 L1267.8,563.0 L1268.8,564.7 L1269.8,566.4 L1270.7,568.2 L1271.6,569.9 L1272.5,571.7 L1273.4,573.4 L1274.3,575.2 L1275.2,577.0 L1276.1,578.7 L1276.9,580.5 L1277.8,582.3 L1278.6,584.1 L1279.4,585.9 L1280.2,587.7 L1281.0,589.5 L1281.8,591.4 L1282.6,593.2 L1283.4,595.0 L1284.2,596.9 L1284.9,598.7 L1285.6,600.6 L1286.4,602.4 L1287.1,604.3 L1287.8,606.1 L1288.5,608.0 L1289.2,609.9 L1289.9,611.8 L1290.6,613.6 L1291.2,615.5 L1291.9,617.4 L1292.5,619.3 L1293.2,621.2 L1293.8,623.1 L1294.4,625.0 L1295.0,626.9 L1295.6,628.9 L1296.2,630.8 L1296.8,632.7 L1297.4,634.6 L1298.0,636.6 L1298.5,638.5 L1299.1,640.4 L1299.7,642.4 L1300.2,644.3 L1300.7,646.3 L1301.3,648.2 L1301.8,650.2 L1302.3,652.1 L1302.8,654.1 L1303.3,656.0 L1303.8,658.0 L1304.3,660.0 L1304.8,661.9 L1305.2,663.9 L1305.7,665.9 L1306.2,667.8 L1306.6,669.8 L1307.1,671.8 L1307.5,673.8 L1308.0,675.7 L1308.4,677.7 L1308.8,679.7 L1309.2,681.7 L1309.7,683.7 L1310.1,685.6 L1310.5,687.6 L1310.9,689.6 L1311.3,691.6 L1311.7,693.6 L1312.0,695.6 L1312.4,697.5 L1312.8,699.5 L1313.2,701.5 L1313.6,703.5 L1313.9,705.5 L1314.3,707.5 L1314.6,709.4 L1315.0,711.4 L1315.3,713.4 L1315.7,715.4 L1316.0,717.4 L1316.4,719.4 L1316.7,721.4 L1317.0,723.3 L1317.4,725.3 L1317.7,727.3 L1318.0,729.3 L1318.3,731.3 L1318.6,733.3 L1318.9,735.3 L1319.2,737.2 L1319.5,739.2 L1319.8,741.2 L1320.1,743.2 L1320.4,745.2 L1320.7,747.2 L1321.0,749.1 L1321.3,751.1 L1321.5,753.1 L1321.8,755.1 L1322.1,757.1 L1322.3,759.1 L1322.6,761.1 L1322.9,763.0 L1323.1,765.0 L1323.4,767.0 L1323.6,769.0 L1323.9,771.0 L1324.1,773.0 L1324.3,774.9 L1324.6,776.9 L1324.8,778.9 L1325.0,780.9 L1325.3,782.9 L1325.5,784.9 L1325.7,786.9 L1325.9,788.8 L1326.1,790.8 L1326.3,792.8 L1326.6,794.8 L1326.8,796.8 L1327.0,798.8 L1327.2,800.8 L1327.4,802.7 L1327.6,804.7 L1327.7,806.7 L1327.9,808.7 L1328.1,810.7 L1328.3,812.7 L1328.5,814.7 L1328.7,816.6 L1328.9,818.6 L1329.0,820.6 L1329.2,822.6 L1329.4,824.6 L1329.5,826.6 L1329.7,828.6 L1329.9,830.5 L1330.0,832.5 L1330.2,834.5 L1330.3,836.5 L1330.5,838.5 L1330.6,840.5 L1330.8,842.5 L1330.9,844.5 L1331.1,846.4 L1331.2,848.4 L1331.4,850.4 L1331.5,852.4 L1331.7,854.4 L1331.8,856.4 L1331.9,858.4 L1332.1,860.4 L1332.2,862.3 L1332.3,864.3 L1332.4,866.3 L1332.6,868.3 L1332.7,870.3 L1332.8,872.3 L1332.9,874.3 L1333.1,876.3 L1333.2,878.2 L1333.3,880.2 L1333.4,882.2 L1333.5,884.2 L1333.6,886.2 L1333.7,888.2 L1333.8,890.2 L1333.9,892.2 L1334.1,894.2 L1334.2,896.1 L1334.3,898.1 L1334.4,900.1 L1334.5,902.1 L1334.6,904.1 L1334.7,906.1 L1334.8,908.1 L1334.9,910.1 L1334.9,912.1 L1335.0,914.1 L1335.1,916.1 L1335.2,918.0 L1335.3,920.0 L1335.4,922.0 L1335.5,924.0 L1335.6,926.0 L1335.7,928.0 L1335.8,930.0 L1335.8,932.0 L1335.9,934.0 L1336.0,936.0 L1336.1,938.0 L1336.2,940.0 L1336.3,942.0 L1336.3,943.9 L1336.4,945.9 L1336.5,947.9 L1336.6,949.9 L1336.7,951.9 L1336.7,953.9 L1336.8,955.9 L1336.9,957.9 L1337.0,959.9 L1337.1,961.9 L1337.1,963.9 L1337.2,965.9 L1337.3,967.9 L1337.4,969.9 L1337.4,971.9 L1337.5,973.9 L1337.6,975.9 L1337.7,977.9 L1337.8,979.9 L1337.8,981.9 L1337.9,983.9 L1338.0,985.8 L1338.1,987.8 L1338.1,989.8 L1338.2,991.8 L1338.3,993.8 L1338.4,995.8 L1338.4,997.8 L1338.5,999.8 L1338.6,1001.8 L1338.7,1003.8 L1338.8,1005.8 L1338.8,1007.8 L1338.9,1009.8 L1339.0,1011.8 L1339.1,1013.8 L1339.2,1015.8 L1339.2,1017.8 L1339.3,1019.8 L1339.4,1021.8 L1339.5,1023.8 L1339.6,1025.8 L1339.7,1027.8 L1339.7,1029.8 L1339.8,1031.8 L1339.9,1033.8 L1340.0,1035.9 L1340.1,1037.9 L1340.2,1039.9 L1340.3,1041.9 L1340.4,1043.9 L1340.4,1045.9 L1340.5,1047.9 L1340.6,1049.9 L1340.7,1051.9 L1340.8,1053.9 L1340.9,1055.9 L1341.0,1057.9 L1341.1,1059.9 L1341.2,1061.9 L1341.3,1063.9 L1341.4,1065.9 L1341.5,1067.9 L1341.6,1069.9 L1341.7,1071.9 L1341.8,1074.0 L1341.9,1076.0 L1342.1,1078.0 L1342.2,1080.0 L1342.3,1082.0 L1342.4,1084.0 L1342.5,1082.0 L1342.6,1080.0 L1342.6,1078.0 L1342.7,1076.0 L1342.8,1074.0 L1342.9,1072.1 L1342.9,1070.1 L1343.0,1068.1 L1343.1,1066.1 L1343.2,1064.1 L1343.2,1062.1 L1343.3,1060.1 L1343.4,1058.1 L1343.4,1056.1 L1343.5,1054.1 L1343.6,1052.1 L1343.6,1050.1 L1343.7,1048.1 L1343.8,1046.1 L1343.8,1044.1 L1343.9,1042.1 L1344.0,1040.1 L1344.0,1038.1 L1344.1,1036.1 L1344.2,1034.1 L1344.2,1032.1 L1344.3,1030.1 L1344.4,1028.1 L1344.4,1026.1 L1344.5,1024.1 L1344.5,1022.1 L1344.6,1020.1 L1344.7,1018.1 L1344.7,1016.1 L1344.8,1014.1 L1344.9,1012.1 L1344.9,1010.1 L1345.0,1008.1 L1345.0,1006.1 L1345.1,1004.1 L1345.2,1002.1 L1345.2,1000.1 L1345.3,998.1 L1345.4,996.1 L1345.4,994.1 L1345.5,992.1 L1345.5,990.1 L1345.6,988.1 L1345.7,986.1 L1345.7,984.1 L1345.8,982.1 L1345.9,980.1 L1345.9,978.1 L1346.0,976.1 L1346.1,974.1 L1346.1,972.1 L1346.2,970.1 L1346.3,968.1 L1346.3,966.1 L1346.4,964.1 L1346.5,962.1 L1346.5,960.1 L1346.6,958.0 L1346.7,956.0 L1346.8,954.0 L1346.8,952.0 L1346.9,950.0 L1347.0,948.0 L1347.1,946.0 L1347.1,944.0 L1347.2,942.0 L1347.3,940.0 L1347.4,938.0 L1347.4,936.0 L1347.5,934.0 L1347.6,932.0 L1347.7,930.0 L1347.8,928.0 L1347.9,926.0 L1347.9,924.0"/>
<path class="curve g" d="M1347.9,924.0 L1348.0,922.0 L1348.1,919.9 L1348.2,917.9 L1348.3,915.9 L1348.4,913.9 L1348.5,911.9 L1348.6,909.9 L1348.7,907.9 L1348.8,905.9 L1348.9,903.9 L1349.0,901.9 L1349.1,899.9 L1349.2,897.9 L1349.3,895.9 L1349.4,893.9 L1349.5,891.9 L1349.6,889.9 L1349.7,887.9 L1349.8,885.9 L1349.9,883.9 L1350.0,881.9 L1350.1,879.9 L1350.3,877.9 L1350.4,875.9 L1350.5,873.9 L1350.6,871.9 L1350.8,869.9 L1350.9,867.9 L1351.0,865.9 L1351.1,863.9 L1351.3,861.9 L1351.4,859.9 L1351.5,857.9 L1351.7,855.9 L1351.8,853.9 L1352.0,851.9 L1352.1,849.9 L1352.2,847.9 L1352.4,845.9 L1352.5,843.9 L1352.7,841.9 L1352.8,839.9 L1353.0,837.9 L1353.2,835.9 L1353.3,833.9 L1353.5,831.9 L1353.6,829.9 L1353.8,827.9 L1354.0,825.9 L1354.2,823.9 L1354.3,821.9 L1354.5,819.9 L1354.7,817.9 L1354.9,815.9 L1355.0,813.9 L1355.2,811.9 L1355.4,810.0 L1355.6,808.0 L1355.8,806.0 L1356.0,804.0 L1356.2,802.0 L1356.4,800.0 L1356.6,798.0 L1356.8,796.0 L1357.0,794.0 L1357.2,792.0 L1357.4,790.1 L1357.6,788.1 L1357.8,786.1 L1358.0,784.1 L1358.3,782.1 L1358.5,780.1 L1358.7,778.1 L1358.9,776.2 L1359.2,774.2 L1359.4,772.2 L1359.6,770.2 L1359.9,768.2 L1360.1,766.2 L1360.3,764.3 L1360.6,762.3 L1360.8,760.3 L1361.1,758.3 L1361.3,756.3 L1361.6,754.4 L1361.8,752.4 L1362.1,750.4 L1362.4,748.4 L1362.6,746.5 L1362.9,744.5 L1363.2,742.5 L1363.4,740.5 L1363.7,738.6 L1364.0,736.6 L1364.3,734.6 L1364.6,732.7 L1364.9,730.7 L1365.2,728.7 L1365.4,726.7 L1365.7,724.8 L1366.0,722.8 L1366.4,720.8 L1366.7,718.9 L1367.0,716.9 L1367.3,714.9 L1367.6,713.0 L1367.9,711.0 L1368.3,709.1 L1368.6,707.1 L1368.9,705.1 L1369.3,703.2 L1369.6,701.2 L1370.0,699.2 L1370.3,697.3 L1370.7,695.3 L1371.1,693.4 L1371.4,691.4 L1371.8,689.5 L1372.2,687.5 L1372.6,685.6 L1373.0,683.6 L1373.4,681.7 L1373.8,679.7 L1374.2,677.8 L1374.6,675.8 L1375.1,673.9 L1375.5,671.9 L1375.9,670.0 L1376.4,668.0 L1376.8,666.1 L1377.3,664.1 L1377.7,662.2 L1378.2,660.2 L1378.7,658.3 L1379.2,656.4 L1379.7,654.4 L1380.2,652.5 L1380.7,650.5 L1381.2,648.6 L1381.7,646.7 L1382.3,644.7 L1382.8,642.8 L1383.4,640.9 L1383.9,638.9 L1384.5,637.0 L1385.0,635.1 L1385.6,633.2 L1386.2,631.3 L1386.8,629.3 L1387.4,627.4 L1388.0,625.5 L1388.6,623.6 L1389.3,621.7 L1389.9,619.8 L1390.5,617.9 L1391.2,616.0 L1391.9,614.1 L1392.5,612.2 L1393.2,610.3 L1393.9,608.4 L1394.6,606.5 L1395.3,604.6 L1396.0,602.7 L1396.7,600.9 L1397.5,599.0 L1398.2,597.1 L1399.0,595.3 L1399.7,593.4 L1400.5,591.5 L1401.3,589.7 L1402.0,587.8 L1402.8,586.0 L1403.6,584.1 L1404.5,582.3 L1405.3,580.5 L1406.1,578.6 L1407.0,576.8 L1407.8,575.0 L1408.7,573.2 L1409.5,571.4 L1410.4,569.6 L1411.3,567.8 L1412.2,566.0 L1413.1,564.2 L1414.0,562.4 L1415.0,560.6 L1415.9,558.8 L1416.9,557.1 L1417.8,555.3 L1418.8,553.5 L1419.8,551.8 L1420.8,550.0 L1421.8,548.3 L1422.8,546.6 L1423.8,544.8 L1424.8,543.1 L1425.9,541.4 L1426.9,539.7 L1428.0,538.0 L1429.1,536.3 L1430.2,534.6 L1431.3,532.9 L1432.4,531.2 L1433.5,529.6 L1434.6,527.9 L1435.8,526.3 L1436.9,524.6 L1438.1,523.0 L1439.3,521.4 L1440.5,519.7 L1441.7,518.1 L1442.9,516.6 L1444.1,515.0 L1445.4,513.4 L1446.6,511.8 L1447.9,510.3 L1449.2,508.8 L1450.5,507.2 L1451.8,505.7 L1453.1,504.2 L1454.5,502.8 L1455.8,501.3 L1457.2,499.8 L1458.6,498.4 L1460.0,497.0 L1461.4,495.5 L1462.8,494.1 L1464.3,492.8 L1465.7,491.4 L1467.2,490.0 L1468.7,488.7 L1470.2,487.4 L1471.7,486.1 L1473.3,484.8 L1474.8,483.5 L1476.4,482.3 L1478.0,481.0 L1479.6,479.8 L1481.2,478.6 L1482.9,477.4 L1484.5,476.3 L1486.2,475.1 L1487.8,474.0 L1489.5,472.9 L1491.2,471.8 L1493.0,470.8 L1494.7,469.7 L1496.4,468.7 L1498.2,467.7 L1499.9,466.7 L1501.7,465.8 L1503.5,464.8 L1505.3,463.9 L1507.1,463.0 L1508.9,462.2 L1510.8,461.3 L1512.6,460.5 L1514.5,459.7 L1516.3,458.9 L1518.2,458.2 L1520.0,457.5 L1521.9,456.8 L1523.8,456.1 L1525.7,455.4 L1527.6,454.8 L1529.5,454.2 L1531.4,453.6 L1533.4,453.1 L1535.3,452.6 L1537.2,452.1 L1539.2,451.6 L1541.1,451.2 L1543.1,450.8 L1545.0,450.4 L1547.0,450.0 L1548.9,449.7 L1550.9,449.4 L1552.9,449.2 L1554.8,448.9 L1556.8,448.7 L1558.8,448.5 L1560.7,448.4 L1562.7,448.3 L1564.7,448.2 L1566.7,448.1 L1568.7,448.1 L1570.6,448.1 L1572.6,448.2 L1574.6,448.2 L1576.6,448.3 L1578.6,448.5 L1580.5,448.6 L1582.5,448.8 L1584.5,449.1 L1586.5,449.4 L1588.4,449.6 L1590.4,450.0 L1592.3,450.3 L1594.3,450.7 L1596.2,451.1 L1598.2,451.6 L1600.1,452.1 L1602.1,452.6 L1604.0,453.1 L1605.9,453.7 L1607.8,454.2 L1609.8,454.9 L1611.7,455.5 L1613.6,456.2 L1615.4,456.9 L1617.3,457.6 L1619.2,458.3 L1621.0,459.1 L1622.9,459.9 L1624.7,460.7 L1626.6,461.6 L1628.4,462.4 L1630.2,463.3 L1632.0,464.2 L1633.8,465.2 L1635.6,466.1 L1637.3,467.1 L1639.1,468.1 L1640.8,469.1 L1642.5,470.2 L1644.2,471.2 L1645.9,472.3 L1647.6,473.4 L1649.3,474.6 L1650.9,475.7 L1652.5,476.9 L1654.2,478.1 L1655.8,479.3 L1657.3,480.5 L1658.9,481.7 L1660.5,483.0 L1662.0,484.2 L1663.5,485.5 L1665.0,486.8 L1666.5,488.2 L1668.0,489.5 L1669.5,490.8 L1670.9,492.2 L1672.4,493.6 L1673.8,495.0 L1675.2,496.4 L1676.6,497.8 L1678.0,499.3 L1679.4,500.7 L1680.7,502.2 L1682.0,503.6 L1683.4,505.1 L1684.7,506.6 L1686.0,508.1 L1687.3,509.6 L1688.5,511.2 L1689.8,512.7 L1691.0,514.3 L1692.2,515.8 L1693.5,517.4 L1694.7,519.0 L1695.8,520.6 L1697.0,522.1 L1698.2,523.7 L1699.3,525.4 L1700.5,527.0 L1701.6,528.6 L1702.7,530.2 L1703.8,531.9 L1704.9,533.5 L1705.9,535.2 L1707.0,536.9 L1708.0,538.5 L1709.1,540.2 L1710.1,541.9 L1711.1,543.6 L1712.1,545.3 L1713.1,547.0 L1714.0,548.7 L1715.0,550.5 L1716.0,552.2 L1716.9,553.9 L1717.8,555.7 L1718.7,557.4 L1719.6,559.2 L1720.5,561.0 L1721.4,562.7 L1722.3,564.5 L1723.1,566.3 L1724.0,568.1 L1724.8,569.9 L1725.7,571.7 L1726.5,573.5 L1727.3,575.3 L1728.1,577.1 L1728.9,578.9 L1729.6,580.8 L1730.4,582.6 L1731.2,584.5 L1731.9,586.3 L1732.6,588.2 L1733.4,590.0 L1734.1,591.9 L1734.8,593.8 L1735.5,595.6 L1736.2,597.5 L1736.9,599.4 L1737.5,601.3 L1738.2,603.2 L1738.8,605.1 L1739.5,607.0 L1740.1,608.9 L1740.7,610.8 L1741.4,612.7 L1742.0,614.6 L1742.6,616.5 L1743.2,618.5 L1743.7,620.4 L1744.3,622.3 L1744.9,624.3 L1745.4,626.2 L1746.0,628.1 L1746.5,630.1 L1747.1,632.0 L1747.6,634.0 L1748.1,635.9 L1748.7,637.9 L1749.2,639.9 L1749.7,641.8 L1750.2,643.8 L1750.6,645.8 L1751.1,647.7 L1751.6,649.7 L1752.1,651.7 L1752.5,653.7 L1753.0,655.6 L1753.4,657.6 L1753.9,659.6 L1754.3,661.6 L1754.7,663.6 L1755.1,665.6 L1755.6,667.6 L1756.0,669.6 L1756.4,671.6 L1756.8,673.6 L1757.2,675.6 L1757.6,677.6 L1757.9,679.6 L1758.3,681.6 L1758.7,683.6 L1759.1,685.6 L1759.4,687.6 L1759.8,689.6 L1760.1,691.6 L1760.5,693.6 L1760.8,695.6 L1761.2,697.6 L1761.5,699.6 L1761.8,701.6 L1762.2,703.6 L1762.5,705.6 L1762.8,707.7 L1763.1,709.7 L1763.4,711.7 L1763.7,713.7 L1764.1,715.7 L1764.4,717.7 L1764.6,719.7 L1764.9,721.7 L1765.2,723.7 L1765.5,725.7 L1765.8,727.7 L1766.1,729.7 L1766.4,731.7 L1766.6,733.7 L1766.9,735.7 L1767.2,737.7 L1767.4,739.7 L1767.7,741.7 L1768.0,743.7 L1768.2,745.7 L1768.5,747.7 L1768.7,749.7 L1769.0,751.7 L1769.2,753.7 L1769.5,755.7 L1769.7,757.7 L1769.9,759.7 L1770.2,761.7 L1770.4,763.7 L1770.6,765.6 L1770.9,767.6 L1771.1,769.6 L1771.3,771.6 L1771.5,773.6 L1771.7,775.6 L1771.9,777.6 L1772.1,779.6 L1772.4,781.6 L1772.6,783.5 L1772.8,785.5 L1773.0,787.5 L1773.2,789.5 L1773.4,791.5 L1773.5,793.5 L1773.7,795.5 L1773.9,797.4 L1774.1,799.4 L1774.3,801.4 L1774.5,803.4 L1774.7,805.4 L1774.8,807.4 L1775.0,809.3 L1775.2,811.3 L1775.4,813.3 L1775.5,815.3 L1775.7,817.3 L1775.9,819.3 L1776.0,821.2 L1776.2,823.2 L1776.3,825.2 L1776.5,827.2 L1776.6,829.2 L1776.8,831.1 L1777.0,833.1 L1777.1,835.1 L1777.3,837.1 L1777.4,839.1 L1777.5,841.0 L1777.7,843.0 L1777.8,845.0 L1778.0,847.0 L1778.1,849.0 L1778.2,850.9 L1778.4,852.9 L1778.5,854.9 L1778.6,856.9 L1778.8,858.8 L1778.9,860.8 L1779.0,862.8 L1779.2,864.8 L1779.3,866.8 L1779.4,868.7 L1779.5,870.7 L1779.6,872.7 L1779.8,874.7 L1779.9,876.7 L1780.0,878.6 L1780.1,880.6 L1780.2,882.6 L1780.3,884.6 L1780.5,886.6 L1780.6,888.5 L1780.7,890.5 L1780.8,892.5 L1780.9,894.5 L1781.0,896.5 L1781.1,898.4 L1781.2,900.4 L1781.3,902.4 L1781.4,904.4 L1781.5,906.4 L1781.6,908.3 L1781.7,910.3 L1781.8,912.3 L1781.9,914.3 L1782.0,916.3 L1782.1,918.3 L1782.2,920.2 L1782.3,922.2 L1782.4,924.2 L1782.5,926.2 L1782.6,928.2 L1782.7,930.2 L1782.8,932.2 L1782.9,934.1 L1783.0,936.1 L1783.1,938.1 L1783.1,940.1 L1783.2,942.1 L1783.3,944.1 L1783.4,946.1 L1783.5,948.1 L1783.6,950.1 L1783.7,952.1 L1783.8,954.0 L1783.9,956.0 L1784.0,958.0 L1784.0,960.0 L1784.1,962.0 L1784.2,964.0 L1784.3,966.0 L1784.4,968.0 L1784.5,970.0 L1784.6,972.0 L1784.7,974.0 L1784.8,976.0 L1784.8,978.0 L1784.9,980.0 L1785.0,982.0 L1785.1,984.0 L1785.2,986.0 L1785.3,988.0 L1785.4,990.0 L1785.5,992.0 L1785.6,994.0 L1785.6,996.0 L1785.7,998.0 L1785.8,1000.0 L1785.9,1002.0 L1786.0,1004.0 L1786.1,1006.0 L1786.2,1008.1 L1786.3,1010.1 L1786.4,1012.1 L1786.5,1014.1 L1786.6,1016.1 L1786.7,1018.1 L1786.8,1020.1 L1786.9,1022.1 L1787.0,1024.2 L1787.1,1026.2 L1787.1,1028.2 L1787.2,1030.2 L1787.3,1032.2 L1787.4,1034.3 L1787.6,1036.3 L1787.7,1038.3 L1787.8,1040.3 L1787.9,1042.4 L1788.0,1044.4 L1788.1,1046.4 L1788.2,1048.4 L1788.3,1050.5 L1788.4,1052.5 L1788.5,1050.5 L1788.6,1048.5 L1788.7,1046.5 L1788.8,1044.5 L1788.9,1042.5 L1788.9,1040.5 L1789.0,1038.5 L1789.1,1036.5 L1789.2,1034.5 L1789.3,1032.5 L1789.4,1030.5 L1789.5,1028.5 L1789.5,1026.5 L1789.6,1024.5 L1789.7,1022.5 L1789.8,1020.5 L1789.9,1018.5 L1789.9,1016.5 L1790.0,1014.5 L1790.1,1012.5 L1790.2,1010.5 L1790.3,1008.5 L1790.3,1006.5 L1790.4,1004.5 L1790.5,1002.5 L1790.6,1000.5 L1790.6,998.5 L1790.7,996.5 L1790.8,994.5 L1790.9,992.5 L1790.9,990.5 L1791.0,988.5 L1791.1,986.5 L1791.1,984.5 L1791.2,982.5 L1791.3,980.5 L1791.4,978.5 L1791.4,976.5 L1791.5,974.5 L1791.6,972.5 L1791.7,970.5 L1791.7,968.5 L1791.8,966.5 L1791.9,964.5 L1791.9,962.5 L1792.0,960.4 L1792.1,958.4 L1792.2,956.4 L1792.2,954.4 L1792.3,952.4 L1792.4,950.4 L1792.5,948.4 L1792.5,946.4 L1792.6,944.4 L1792.7,942.4 L1792.8,940.4 L1792.8,938.4 L1792.9,936.4 L1793.0,934.4 L1793.1,932.4 L1793.2,930.4 L1793.2,928.4 L1793.3,926.3 L1793.4,924.3 L1793.5,922.3 L1793.6,920.3 L1793.6,918.3 L1793.7,916.3 L1793.8,914.3 L1793.9,912.3 L1794.0,910.3 L1794.1,908.3 L1794.2,906.3 L1794.2,904.3 L1794.3,902.3 L1794.4,900.3 L1794.5,898.3 L1794.6,896.2 L1794.7,894.2 L1794.8,892.2 L1794.9,890.2 L1795.0,888.2 L1795.1,886.2 L1795.2,884.2 L1795.3,882.2 L1795.4,880.2 L1795.5,878.2 L1795.6,876.2 L1795.7,874.2 L1795.8,872.2 L1795.9,870.2 L1796.0,868.2 L1796.1,866.2 L1796.3,864.2 L1796.4,862.2 L1796.5,860.2 L1796.6,858.2 L1796.7,856.2 L1796.8,854.1 L1797.0,852.1 L1797.1,850.1 L1797.2,848.1 L1797.3,846.1 L1797.5,844.1 L1797.6,842.1 L1797.7,840.1 L1797.9,838.1 L1798.0,836.1 L1798.1,834.1 L1798.3,832.1 L1798.4,830.1 L1798.6,828.1 L1798.7,826.1 L1798.9,824.1 L1799.0,822.1 L1799.2,820.1 L1799.3,818.1 L1799.5,816.1 L1799.6,814.1 L1799.8,812.1 L1800.0,810.1 L1800.1,808.1 L1800.3,806.1 L1800.5,804.1 L1800.6,802.1 L1800.8,800.1 L1801.0,798.2 L1801.2,796.2 L1801.4,794.2 L1801.5,792.2 L1801.7,790.2 L1801.9,788.2 L1802.1,786.2 L1802.3,784.2 L1802.5,782.2 L1802.7,780.2 L1802.9,778.2 L1803.1,776.2 L1803.3,774.2 L1803.5,772.2 L1803.7,770.2 L1804.0,768.3 L1804.2,766.3 L1804.4,764.3 L1804.6,762.3 L1804.9,760.3 L1805.1,758.3 L1805.3,756.3 L1805.6,754.3 L1805.8,752.4 L1806.0,750.4 L1806.3,748.4 L1806.5,746.4 L1806.8,744.4 L1807.0,742.4 L1807.3,740.4 L1807.6,738.5 L1807.8,736.5 L1808.1,734.5 L1808.4,732.5 L1808.6,730.5 L1808.9,728.5 L1809.2,726.6 L1809.5,724.6 L1809.8,722.6 L1810.1,720.6 L1810.4,718.7 L1810.7,716.7 L1811.0,714.7 L1811.3,712.7 L1811.6,710.7 L1811.9,708.8 L1812.2,706.8 L1812.5,704.8 L1812.9,702.9 L1813.2,700.9 L1813.5,698.9 L1813.9,696.9 L1814.2,695.0 L1814.5,693.0 L1814.9,691.0 L1815.2,689.1 L1815.6,687.1 L1815.9,685.1 L1816.3,683.2 L1816.7,681.2 L1817.1,679.2 L1817.4,677.3 L1817.8,675.3 L1818.2,673.3 L1818.6,671.4 L1819.0,669.4 L1819.4,667.4 L1819.8,665.5 L1820.2,663.5 L1820.6,661.6 L1821.0,659.6 L1821.4,657.6 L1821.8,655.7 L1822.3,653.7 L1822.7,651.8 L1823.1,649.8 L1823.6,647.9 L1824.0,645.9 L1824.5,644.0 L1824.9,642.0 L1825.4,640.1 L1825.8,638.1 L1826.3,636.2 L1826.8,634.2 L1827.2,632.3 L1827.7,630.3 L1828.2,628.4 L1828.7,626.4 L1829.2,624.5 L1829.7,622.5 L1830.2,620.6 L1830.7,618.7 L1831.2,616.7 L1831.8,614.8 L1832.3,612.8 L1832.8,610.9 L1833.3,609.0 L1833.9,607.0 L1834.4,605.1 L1835.0,603.1 L1835.5,601.2 L1836.1,599.3 L1836.7,597.3 L1837.2,595.4 L1837.8,593.5 L1838.4,591.6 L1839.0,589.6 L1839.6,587.7 L1840.2,585.8 L1840.8,583.8 L1841.4,581.9 L1842.0,580.0"/>
</g>
<rect x="200.9" y="22.6" width="1642.3" height="5.2" fill="#000"/>
<rect x="200.9" y="1342.1" width="1642.3" height="5.2" fill="#000"/>
<rect x="200.9" y="22.6" width="5.4" height="1324.7" fill="#000"/>
<rect x="1839.05" y="22.6" width="4.15" height="1324.7" fill="#000"/>
<line x1="203.6" y1="113.5" x2="228.79999999999998" y2="113.5" stroke="#000" stroke-width="4.0"/>
<line x1="203.6" y1="289.8" x2="228.79999999999998" y2="289.8" stroke="#000" stroke-width="5.2"/>
<line x1="203.6" y1="465.6" x2="228.79999999999998" y2="465.6" stroke="#000" stroke-width="5.2"/>
<line x1="203.6" y1="641.5" x2="228.79999999999998" y2="641.5" stroke="#000" stroke-width="5.2"/>
<line x1="203.6" y1="817.3" x2="228.79999999999998" y2="817.3" stroke="#000" stroke-width="5.2"/>
<line x1="203.6" y1="993.1" x2="228.79999999999998" y2="993.1" stroke="#000" stroke-width="5.2"/>
<line x1="203.6" y1="1168.9" x2="228.79999999999998" y2="1168.9" stroke="#000" stroke-width="5.2"/>
<line x1="613.0" y1="1345.0" x2="613.0" y2="1319.4" stroke="#000" stroke-width="4.3"/>
<line x1="1022.4" y1="1345.0" x2="1022.4" y2="1319.4" stroke="#000" stroke-width="4.3"/>
<line x1="1431.8" y1="1345.0" x2="1431.8" y2="1319.4" stroke="#000" stroke-width="4.3"/>
<text class="tick" transform="translate(175.2 130.3) scale(1 1.035)" text-anchor="end">0</text>
<text class="tick" transform="translate(175.2 306.0) scale(1 1.035)" text-anchor="end">-10</text>
<text class="tick" transform="translate(175.2 481.7) scale(1 1.035)" text-anchor="end">-20</text>
<text class="tick" transform="translate(175.2 657.5) scale(1 1.035)" text-anchor="end">-30</text>
<text class="tick" transform="translate(175.2 833.2) scale(1 1.035)" text-anchor="end">-40</text>
<text class="tick" transform="translate(175.2 1008.9) scale(1 1.035)" text-anchor="end">-50</text>
<text class="tick" transform="translate(175.2 1184.6) scale(1 1.035)" text-anchor="end">-60</text>
<text class="tick" transform="translate(175.2 1360.3) scale(1 1.035)" text-anchor="end">-70</text>
<text class="tick" transform="translate(203.0 1415.3) scale(1 1.035)" text-anchor="middle">219.0</text>
<text class="tick" transform="translate(612.4 1415.3) scale(1 1.035)" text-anchor="middle">219.5</text>
<text class="tick" transform="translate(1021.8 1415.3) scale(1 1.035)" text-anchor="middle">220.0</text>
<text class="tick" transform="translate(1431.2 1415.3) scale(1 1.035)" text-anchor="middle">220.5</text>
<text class="tick" transform="translate(1840.6 1415.3) scale(1 1.035)" text-anchor="middle">221.0</text>
<text class="title" x="1022.3" y="1522.8" text-anchor="middle">Frequency(GHz)</text>
<text class="title" transform="translate(72.6 684.5) rotate(-90)" text-anchor="middle">S-Parameter(dB)</text>
<rect x="1492" y="167.1" width="255.6" height="169.6" fill="#fff" stroke="#000" stroke-width="4.4"/>
<line x1="1498" y1="197.9" x2="1596.5" y2="197.9" stroke="#ff0000" stroke-width="8" stroke-linecap="round"/>
<line x1="1498" y1="251.8" x2="1596.5" y2="251.8" stroke="#0000ff" stroke-width="8" stroke-linecap="round" stroke-dasharray="35 47.3"/>
<line x1="1498" y1="306.1" x2="1596.5" y2="306.1" stroke="#00e000" stroke-width="8" stroke-linecap="round" stroke-dasharray="31.4 27.4 5.4 27.4 5.4 27.4"/>
<text class="leg" x="1607" y="212.3">Serial</text>
<text class="leg" x="1607" y="266.3">Parallel</text>
<text class="leg" x="1607" y="320.1">CST</text>
<circle cx="413.8" cy="536.8" r="22" fill="none" stroke="#000" stroke-width="5.2"/>
<line x1="392" y1="536.6" x2="360" y2="536.6" stroke="#000" stroke-width="2.2"/>
<polygon points="346.9,536.6 366.6,526.6 366.6,546.6" fill="#000"/>
<text class="ann" transform="translate(293.6 555.3) scale(1.1 1)">S</text>
<text class="sub" transform="translate(326.4 571.8) scale(0.92 1)">11</text>
<circle cx="1241" cy="113.5" r="22.2" fill="none" stroke="#000" stroke-width="5.3"/>
<line x1="1250.2" y1="136" x2="1270" y2="158" stroke="#000" stroke-width="2.2"/>
<polygon points="1279,168.3 1259,160 1273.6,147.7" fill="#000"/>
<text class="ann" transform="translate(1285.3 199.3) scale(1.1 1)">S</text>
<text class="sub" x="1318" y="216">21</text>
</svg>
</body>
</html>
